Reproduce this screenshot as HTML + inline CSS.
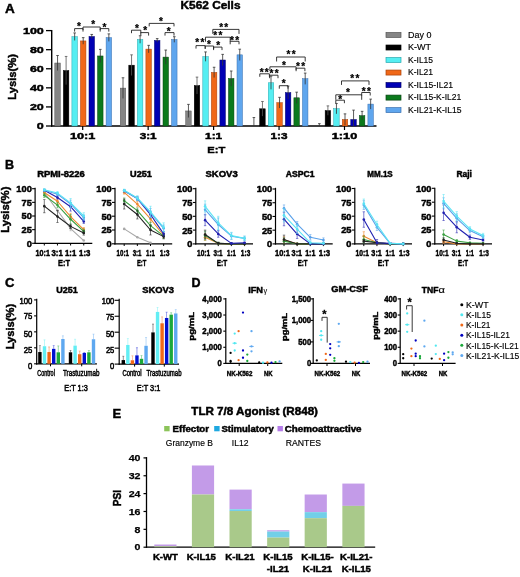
<!DOCTYPE html>
<html><head><meta charset="utf-8"><title>Figure</title>
<style>
html,body{margin:0;padding:0;background:#fff;}
body{width:520px;height:577px;overflow:hidden;}
svg{display:block;}
text{font-family:"Liberation Sans", Arial, sans-serif;}
</style></head>
<body>
<svg width="520" height="577" viewBox="0 0 520 577">
<rect x="0" y="0" width="520" height="577" fill="#fff"/>
<text x="5.00" y="12.70" font-size="13.5" font-weight="bold" text-anchor="start" fill="#000" stroke="#000" stroke-width="0.45">A</text>
<text x="180.50" y="9.30" font-size="11" font-weight="bold" text-anchor="start" fill="#000" stroke="#000" stroke-width="0.45" textLength="60.00" lengthAdjust="spacingAndGlyphs">K562 Cells</text>
<line x1="51.70" y1="30.00" x2="51.70" y2="126.60" stroke="#000" stroke-width="1.4"/>
<line x1="51.00" y1="126.00" x2="376.50" y2="126.00" stroke="#000" stroke-width="1.4"/>
<line x1="46.00" y1="126.00" x2="51.70" y2="126.00" stroke="#000" stroke-width="1.3"/>
<text x="43.80" y="128.90" font-size="9.3" font-weight="bold" text-anchor="end" fill="#000" stroke="#000" stroke-width="0.45" textLength="6.95" lengthAdjust="spacingAndGlyphs">0</text>
<line x1="46.00" y1="106.92" x2="51.70" y2="106.92" stroke="#000" stroke-width="1.3"/>
<text x="43.80" y="109.82" font-size="9.3" font-weight="bold" text-anchor="end" fill="#000" stroke="#000" stroke-width="0.45" textLength="13.90" lengthAdjust="spacingAndGlyphs">20</text>
<line x1="46.00" y1="87.84" x2="51.70" y2="87.84" stroke="#000" stroke-width="1.3"/>
<text x="43.80" y="90.74" font-size="9.3" font-weight="bold" text-anchor="end" fill="#000" stroke="#000" stroke-width="0.45" textLength="13.90" lengthAdjust="spacingAndGlyphs">40</text>
<line x1="46.00" y1="68.76" x2="51.70" y2="68.76" stroke="#000" stroke-width="1.3"/>
<text x="43.80" y="71.66" font-size="9.3" font-weight="bold" text-anchor="end" fill="#000" stroke="#000" stroke-width="0.45" textLength="13.90" lengthAdjust="spacingAndGlyphs">60</text>
<line x1="46.00" y1="49.68" x2="51.70" y2="49.68" stroke="#000" stroke-width="1.3"/>
<text x="43.80" y="52.58" font-size="9.3" font-weight="bold" text-anchor="end" fill="#000" stroke="#000" stroke-width="0.45" textLength="13.90" lengthAdjust="spacingAndGlyphs">80</text>
<line x1="46.00" y1="30.60" x2="51.70" y2="30.60" stroke="#000" stroke-width="1.3"/>
<text x="43.80" y="33.50" font-size="9.3" font-weight="bold" text-anchor="end" fill="#000" stroke="#000" stroke-width="0.45" textLength="20.85" lengthAdjust="spacingAndGlyphs">100</text>
<text x="15.60" y="76.80" font-size="11.4" font-weight="bold" text-anchor="middle" fill="#000" stroke="#000" stroke-width="0.45" textLength="45.80" lengthAdjust="spacingAndGlyphs" transform="rotate(-90 15.60 76.80)">Lysis(%)</text>
<rect x="54.80" y="63.02" width="5.50" height="62.98" fill="#858585" stroke="#555" stroke-width="0.5"/>
<line x1="57.55" y1="55.50" x2="57.55" y2="70.54" stroke="#333" stroke-width="0.8"/>
<line x1="56.25" y1="55.50" x2="58.85" y2="55.50" stroke="#333" stroke-width="0.8"/>
<rect x="63.35" y="70.54" width="5.50" height="55.46" fill="#000000" stroke="#000" stroke-width="0.5"/>
<line x1="66.10" y1="56.44" x2="66.10" y2="84.64" stroke="#555" stroke-width="0.8"/>
<line x1="64.80" y1="56.44" x2="67.40" y2="56.44" stroke="#555" stroke-width="0.8"/>
<rect x="71.90" y="36.70" width="5.50" height="89.30" fill="#55eef2" stroke="#2aa8b0" stroke-width="0.5"/>
<line x1="74.65" y1="32.94" x2="74.65" y2="40.46" stroke="#333" stroke-width="0.8"/>
<line x1="73.35" y1="32.94" x2="75.95" y2="32.94" stroke="#333" stroke-width="0.8"/>
<rect x="80.45" y="40.93" width="5.50" height="85.07" fill="#f06818" stroke="#a84008" stroke-width="0.5"/>
<line x1="83.20" y1="37.64" x2="83.20" y2="44.22" stroke="#333" stroke-width="0.8"/>
<line x1="81.90" y1="37.64" x2="84.50" y2="37.64" stroke="#333" stroke-width="0.8"/>
<rect x="89.00" y="36.51" width="5.50" height="89.49" fill="#0000b4" stroke="#00006a" stroke-width="0.5"/>
<line x1="91.75" y1="34.44" x2="91.75" y2="38.58" stroke="#333" stroke-width="0.8"/>
<line x1="90.45" y1="34.44" x2="93.05" y2="34.44" stroke="#333" stroke-width="0.8"/>
<rect x="97.55" y="55.97" width="5.50" height="70.03" fill="#0b7a1c" stroke="#064010" stroke-width="0.5"/>
<line x1="100.30" y1="49.39" x2="100.30" y2="62.55" stroke="#333" stroke-width="0.8"/>
<line x1="99.00" y1="49.39" x2="101.60" y2="49.39" stroke="#333" stroke-width="0.8"/>
<rect x="106.10" y="37.64" width="5.50" height="88.36" fill="#5fa6ee" stroke="#3a70b0" stroke-width="0.5"/>
<line x1="108.85" y1="33.88" x2="108.85" y2="41.40" stroke="#333" stroke-width="0.8"/>
<line x1="107.55" y1="33.88" x2="110.15" y2="33.88" stroke="#333" stroke-width="0.8"/>
<line x1="82.70" y1="126.00" x2="82.70" y2="130.00" stroke="#000" stroke-width="1.2"/>
<rect x="120.25" y="88.12" width="5.50" height="37.88" fill="#858585" stroke="#555" stroke-width="0.5"/>
<line x1="123.00" y1="77.78" x2="123.00" y2="98.46" stroke="#333" stroke-width="0.8"/>
<line x1="121.70" y1="77.78" x2="124.30" y2="77.78" stroke="#333" stroke-width="0.8"/>
<rect x="128.80" y="65.18" width="5.50" height="60.82" fill="#000000" stroke="#000" stroke-width="0.5"/>
<line x1="131.55" y1="54.84" x2="131.55" y2="75.52" stroke="#555" stroke-width="0.8"/>
<line x1="130.25" y1="54.84" x2="132.85" y2="54.84" stroke="#555" stroke-width="0.8"/>
<rect x="137.35" y="39.52" width="5.50" height="86.48" fill="#55eef2" stroke="#2aa8b0" stroke-width="0.5"/>
<line x1="140.10" y1="35.76" x2="140.10" y2="43.28" stroke="#333" stroke-width="0.8"/>
<line x1="138.80" y1="35.76" x2="141.40" y2="35.76" stroke="#333" stroke-width="0.8"/>
<rect x="145.90" y="49.11" width="5.50" height="76.89" fill="#f06818" stroke="#a84008" stroke-width="0.5"/>
<line x1="148.65" y1="45.35" x2="148.65" y2="52.87" stroke="#333" stroke-width="0.8"/>
<line x1="147.35" y1="45.35" x2="149.95" y2="45.35" stroke="#333" stroke-width="0.8"/>
<rect x="154.45" y="40.46" width="5.50" height="85.54" fill="#0000b4" stroke="#00006a" stroke-width="0.5"/>
<line x1="157.20" y1="38.58" x2="157.20" y2="42.34" stroke="#333" stroke-width="0.8"/>
<line x1="155.90" y1="38.58" x2="158.50" y2="38.58" stroke="#333" stroke-width="0.8"/>
<rect x="163.00" y="57.10" width="5.50" height="68.90" fill="#0b7a1c" stroke="#064010" stroke-width="0.5"/>
<line x1="165.75" y1="50.05" x2="165.75" y2="64.15" stroke="#333" stroke-width="0.8"/>
<line x1="164.45" y1="50.05" x2="167.05" y2="50.05" stroke="#333" stroke-width="0.8"/>
<rect x="171.55" y="39.52" width="5.50" height="86.48" fill="#5fa6ee" stroke="#3a70b0" stroke-width="0.5"/>
<line x1="174.30" y1="36.70" x2="174.30" y2="42.34" stroke="#333" stroke-width="0.8"/>
<line x1="173.00" y1="36.70" x2="175.60" y2="36.70" stroke="#333" stroke-width="0.8"/>
<line x1="148.15" y1="126.00" x2="148.15" y2="130.00" stroke="#000" stroke-width="1.2"/>
<rect x="185.70" y="110.96" width="5.50" height="15.04" fill="#858585" stroke="#555" stroke-width="0.5"/>
<line x1="188.45" y1="104.38" x2="188.45" y2="117.54" stroke="#333" stroke-width="0.8"/>
<line x1="187.15" y1="104.38" x2="189.75" y2="104.38" stroke="#333" stroke-width="0.8"/>
<rect x="194.25" y="85.58" width="5.50" height="40.42" fill="#000000" stroke="#000" stroke-width="0.5"/>
<line x1="197.00" y1="77.12" x2="197.00" y2="94.04" stroke="#555" stroke-width="0.8"/>
<line x1="195.70" y1="77.12" x2="198.30" y2="77.12" stroke="#555" stroke-width="0.8"/>
<rect x="202.80" y="56.63" width="5.50" height="69.37" fill="#55eef2" stroke="#2aa8b0" stroke-width="0.5"/>
<line x1="205.55" y1="51.93" x2="205.55" y2="61.33" stroke="#333" stroke-width="0.8"/>
<line x1="204.25" y1="51.93" x2="206.85" y2="51.93" stroke="#333" stroke-width="0.8"/>
<rect x="211.35" y="72.42" width="5.50" height="53.58" fill="#f06818" stroke="#a84008" stroke-width="0.5"/>
<line x1="214.10" y1="67.25" x2="214.10" y2="77.59" stroke="#333" stroke-width="0.8"/>
<line x1="212.80" y1="67.25" x2="215.40" y2="67.25" stroke="#333" stroke-width="0.8"/>
<rect x="219.90" y="60.01" width="5.50" height="65.99" fill="#0000b4" stroke="#00006a" stroke-width="0.5"/>
<line x1="222.65" y1="54.37" x2="222.65" y2="65.65" stroke="#333" stroke-width="0.8"/>
<line x1="221.35" y1="54.37" x2="223.95" y2="54.37" stroke="#333" stroke-width="0.8"/>
<rect x="228.45" y="78.53" width="5.50" height="47.47" fill="#0b7a1c" stroke="#064010" stroke-width="0.5"/>
<line x1="231.20" y1="71.01" x2="231.20" y2="86.05" stroke="#333" stroke-width="0.8"/>
<line x1="229.90" y1="71.01" x2="232.50" y2="71.01" stroke="#333" stroke-width="0.8"/>
<rect x="237.00" y="54.84" width="5.50" height="71.16" fill="#5fa6ee" stroke="#3a70b0" stroke-width="0.5"/>
<line x1="239.75" y1="49.20" x2="239.75" y2="60.48" stroke="#333" stroke-width="0.8"/>
<line x1="238.45" y1="49.20" x2="241.05" y2="49.20" stroke="#333" stroke-width="0.8"/>
<line x1="213.60" y1="126.00" x2="213.60" y2="130.00" stroke="#000" stroke-width="1.2"/>
<line x1="253.90" y1="117.54" x2="253.90" y2="126.00" stroke="#333" stroke-width="0.8"/>
<line x1="252.60" y1="117.54" x2="255.20" y2="117.54" stroke="#333" stroke-width="0.8"/>
<rect x="259.70" y="108.80" width="5.50" height="17.20" fill="#000000" stroke="#000" stroke-width="0.5"/>
<line x1="262.45" y1="101.47" x2="262.45" y2="116.13" stroke="#555" stroke-width="0.8"/>
<line x1="261.15" y1="101.47" x2="263.75" y2="101.47" stroke="#555" stroke-width="0.8"/>
<rect x="268.25" y="82.76" width="5.50" height="43.24" fill="#55eef2" stroke="#2aa8b0" stroke-width="0.5"/>
<line x1="271.00" y1="76.18" x2="271.00" y2="89.34" stroke="#333" stroke-width="0.8"/>
<line x1="269.70" y1="76.18" x2="272.30" y2="76.18" stroke="#333" stroke-width="0.8"/>
<rect x="276.80" y="102.69" width="5.50" height="23.31" fill="#f06818" stroke="#a84008" stroke-width="0.5"/>
<line x1="279.55" y1="97.33" x2="279.55" y2="108.05" stroke="#333" stroke-width="0.8"/>
<line x1="278.25" y1="97.33" x2="280.85" y2="97.33" stroke="#333" stroke-width="0.8"/>
<rect x="285.35" y="92.63" width="5.50" height="33.37" fill="#0000b4" stroke="#00006a" stroke-width="0.5"/>
<line x1="288.10" y1="86.05" x2="288.10" y2="99.21" stroke="#333" stroke-width="0.8"/>
<line x1="286.80" y1="86.05" x2="289.40" y2="86.05" stroke="#333" stroke-width="0.8"/>
<rect x="293.90" y="97.80" width="5.50" height="28.20" fill="#0b7a1c" stroke="#064010" stroke-width="0.5"/>
<line x1="296.65" y1="92.16" x2="296.65" y2="103.44" stroke="#333" stroke-width="0.8"/>
<line x1="295.35" y1="92.16" x2="297.95" y2="92.16" stroke="#333" stroke-width="0.8"/>
<rect x="302.45" y="78.72" width="5.50" height="47.28" fill="#5fa6ee" stroke="#3a70b0" stroke-width="0.5"/>
<line x1="305.20" y1="73.08" x2="305.20" y2="84.36" stroke="#333" stroke-width="0.8"/>
<line x1="303.90" y1="73.08" x2="306.50" y2="73.08" stroke="#333" stroke-width="0.8"/>
<line x1="279.05" y1="126.00" x2="279.05" y2="130.00" stroke="#000" stroke-width="1.2"/>
<line x1="319.35" y1="123.65" x2="319.35" y2="126.00" stroke="#333" stroke-width="0.8"/>
<line x1="318.05" y1="123.65" x2="320.65" y2="123.65" stroke="#333" stroke-width="0.8"/>
<rect x="325.15" y="110.58" width="5.50" height="15.42" fill="#000000" stroke="#000" stroke-width="0.5"/>
<line x1="327.90" y1="105.88" x2="327.90" y2="115.28" stroke="#555" stroke-width="0.8"/>
<line x1="326.60" y1="105.88" x2="329.20" y2="105.88" stroke="#555" stroke-width="0.8"/>
<rect x="333.70" y="108.70" width="5.50" height="17.30" fill="#55eef2" stroke="#2aa8b0" stroke-width="0.5"/>
<line x1="336.45" y1="103.53" x2="336.45" y2="113.87" stroke="#333" stroke-width="0.8"/>
<line x1="335.15" y1="103.53" x2="337.75" y2="103.53" stroke="#333" stroke-width="0.8"/>
<rect x="342.25" y="119.51" width="5.50" height="6.49" fill="#f06818" stroke="#a84008" stroke-width="0.5"/>
<line x1="345.00" y1="113.87" x2="345.00" y2="125.15" stroke="#333" stroke-width="0.8"/>
<line x1="343.70" y1="113.87" x2="346.30" y2="113.87" stroke="#333" stroke-width="0.8"/>
<rect x="350.80" y="119.51" width="5.50" height="6.49" fill="#0000b4" stroke="#00006a" stroke-width="0.5"/>
<line x1="353.55" y1="110.11" x2="353.55" y2="126.00" stroke="#333" stroke-width="0.8"/>
<line x1="352.25" y1="110.11" x2="354.85" y2="110.11" stroke="#333" stroke-width="0.8"/>
<rect x="359.35" y="115.66" width="5.50" height="10.34" fill="#0b7a1c" stroke="#064010" stroke-width="0.5"/>
<line x1="362.10" y1="111.34" x2="362.10" y2="119.98" stroke="#333" stroke-width="0.8"/>
<line x1="360.80" y1="111.34" x2="363.40" y2="111.34" stroke="#333" stroke-width="0.8"/>
<rect x="367.90" y="104.10" width="5.50" height="21.90" fill="#5fa6ee" stroke="#3a70b0" stroke-width="0.5"/>
<line x1="370.65" y1="99.12" x2="370.65" y2="109.08" stroke="#333" stroke-width="0.8"/>
<line x1="369.35" y1="99.12" x2="371.95" y2="99.12" stroke="#333" stroke-width="0.8"/>
<line x1="344.50" y1="126.00" x2="344.50" y2="130.00" stroke="#000" stroke-width="1.2"/>
<text x="82.70" y="139.40" font-size="8.8" font-weight="bold" text-anchor="middle" fill="#000" stroke="#000" stroke-width="0.45" textLength="25.40" lengthAdjust="spacingAndGlyphs">10:1</text>
<text x="148.15" y="139.40" font-size="8.8" font-weight="bold" text-anchor="middle" fill="#000" stroke="#000" stroke-width="0.45" textLength="17.00" lengthAdjust="spacingAndGlyphs">3:1</text>
<text x="213.60" y="139.40" font-size="8.8" font-weight="bold" text-anchor="middle" fill="#000" stroke="#000" stroke-width="0.45" textLength="17.00" lengthAdjust="spacingAndGlyphs">1:1</text>
<text x="279.05" y="139.40" font-size="8.8" font-weight="bold" text-anchor="middle" fill="#000" stroke="#000" stroke-width="0.45" textLength="17.00" lengthAdjust="spacingAndGlyphs">1:3</text>
<text x="344.50" y="139.40" font-size="8.8" font-weight="bold" text-anchor="middle" fill="#000" stroke="#000" stroke-width="0.45" textLength="25.40" lengthAdjust="spacingAndGlyphs">1:10</text>
<text x="216.30" y="152.80" font-size="9.8" font-weight="bold" text-anchor="middle" fill="#000" stroke="#000" stroke-width="0.45" textLength="18.00" lengthAdjust="spacingAndGlyphs">E:T</text>
<path d="M74.60,31.60 L74.60,28.60 L83.00,28.60 L83.00,31.60" stroke="#222" stroke-width="0.9" fill="none"/>
<text x="79.00" y="30.10" font-size="10.0" font-weight="bold" text-anchor="middle" fill="#000" stroke="#000" stroke-width="0.25">*</text>
<path d="M83.00,30.00 L83.00,27.00 L100.20,27.00 L100.20,30.00" stroke="#222" stroke-width="0.9" fill="none"/>
<text x="93.30" y="28.10" font-size="10.0" font-weight="bold" text-anchor="middle" fill="#000" stroke="#000" stroke-width="0.25">*</text>
<path d="M100.20,31.60 L100.20,28.60 L108.80,28.60 L108.80,31.60" stroke="#222" stroke-width="0.9" fill="none"/>
<text x="104.50" y="30.60" font-size="10.0" font-weight="bold" text-anchor="middle" fill="#000" stroke="#000" stroke-width="0.25">*</text>
<path d="M131.50,33.20 L131.50,30.20 L140.80,30.20 L140.80,33.20" stroke="#222" stroke-width="0.9" fill="none"/>
<text x="137.00" y="31.60" font-size="10.0" font-weight="bold" text-anchor="middle" fill="#000" stroke="#000" stroke-width="0.25">*</text>
<path d="M140.80,35.60 L140.80,32.60 L148.60,32.60 L148.60,35.60" stroke="#222" stroke-width="0.9" fill="none"/>
<text x="145.20" y="34.00" font-size="10.0" font-weight="bold" text-anchor="middle" fill="#000" stroke="#000" stroke-width="0.25">*</text>
<path d="M149.20,26.40 L149.20,23.40 L174.00,23.40 L174.00,26.40" stroke="#222" stroke-width="0.9" fill="none"/>
<text x="161.00" y="24.60" font-size="10.0" font-weight="bold" text-anchor="middle" fill="#000" stroke="#000" stroke-width="0.25">*</text>
<path d="M165.00,35.60 L165.00,32.60 L174.00,32.60 L174.00,35.60" stroke="#222" stroke-width="0.9" fill="none"/>
<text x="168.70" y="34.60" font-size="10.0" font-weight="bold" text-anchor="middle" fill="#000" stroke="#000" stroke-width="0.25">*</text>
<path d="M196.00,48.60 L196.00,45.60 L205.20,45.60 L205.20,48.60" stroke="#222" stroke-width="0.9" fill="none"/>
<text x="197.20" y="46.00" font-size="10.0" font-weight="bold" text-anchor="middle" fill="#000" stroke="#000" stroke-width="0.25">*</text>
<text x="202.40" y="46.00" font-size="10.0" font-weight="bold" text-anchor="middle" fill="#000" stroke="#000" stroke-width="0.25">*</text>
<path d="M205.20,49.00 L205.20,46.00 L213.60,46.00 L213.60,49.00" stroke="#222" stroke-width="0.9" fill="none"/>
<text x="208.90" y="48.10" font-size="10.0" font-weight="bold" text-anchor="middle" fill="#000" stroke="#000" stroke-width="0.25">*</text>
<path d="M213.60,50.10 L213.60,47.10 L222.00,47.10 L222.00,50.10" stroke="#222" stroke-width="0.9" fill="none"/>
<text x="218.10" y="48.90" font-size="10.0" font-weight="bold" text-anchor="middle" fill="#000" stroke="#000" stroke-width="0.25">*</text>
<path d="M205.50,41.70 L205.50,37.20 L230.20,37.20 L230.20,41.70" stroke="#222" stroke-width="0.9" fill="none"/>
<text x="215.30" y="39.30" font-size="10.0" font-weight="bold" text-anchor="middle" fill="#000" stroke="#000" stroke-width="0.25">*</text>
<text x="220.50" y="39.30" font-size="10.0" font-weight="bold" text-anchor="middle" fill="#000" stroke="#000" stroke-width="0.25">*</text>
<path d="M230.20,44.30 L230.20,41.30 L239.00,41.30 L239.00,44.30" stroke="#222" stroke-width="0.9" fill="none"/>
<text x="232.00" y="43.60" font-size="10.0" font-weight="bold" text-anchor="middle" fill="#000" stroke="#000" stroke-width="0.25">*</text>
<text x="237.20" y="43.60" font-size="10.0" font-weight="bold" text-anchor="middle" fill="#000" stroke="#000" stroke-width="0.25">*</text>
<path d="M212.80,33.90 L212.80,29.40 L239.00,29.40 L239.00,33.90" stroke="#222" stroke-width="0.9" fill="none"/>
<text x="221.10" y="31.00" font-size="10.0" font-weight="bold" text-anchor="middle" fill="#000" stroke="#000" stroke-width="0.25">*</text>
<text x="226.30" y="31.00" font-size="10.0" font-weight="bold" text-anchor="middle" fill="#000" stroke="#000" stroke-width="0.25">*</text>
<path d="M259.80,76.80 L259.80,73.80 L269.40,73.80 L269.40,76.80" stroke="#222" stroke-width="0.9" fill="none"/>
<text x="261.60" y="75.60" font-size="10.0" font-weight="bold" text-anchor="middle" fill="#000" stroke="#000" stroke-width="0.25">*</text>
<text x="266.80" y="75.60" font-size="10.0" font-weight="bold" text-anchor="middle" fill="#000" stroke="#000" stroke-width="0.25">*</text>
<path d="M269.60,78.20 L269.60,75.20 L278.00,75.20 L278.00,78.20" stroke="#222" stroke-width="0.9" fill="none"/>
<text x="271.40" y="77.00" font-size="10.0" font-weight="bold" text-anchor="middle" fill="#000" stroke="#000" stroke-width="0.25">*</text>
<text x="276.60" y="77.00" font-size="10.0" font-weight="bold" text-anchor="middle" fill="#000" stroke="#000" stroke-width="0.25">*</text>
<path d="M269.90,69.80 L269.90,66.80 L296.10,66.80 L296.10,69.80" stroke="#222" stroke-width="0.9" fill="none"/>
<text x="284.00" y="68.60" font-size="10.0" font-weight="bold" text-anchor="middle" fill="#000" stroke="#000" stroke-width="0.25">*</text>
<path d="M296.10,71.20 L296.10,68.20 L304.90,68.20 L304.90,71.20" stroke="#222" stroke-width="0.9" fill="none"/>
<text x="297.90" y="70.30" font-size="10.0" font-weight="bold" text-anchor="middle" fill="#000" stroke="#000" stroke-width="0.25">*</text>
<text x="303.10" y="70.30" font-size="10.0" font-weight="bold" text-anchor="middle" fill="#000" stroke="#000" stroke-width="0.25">*</text>
<path d="M276.60,61.50 L276.60,57.00 L305.20,57.00 L305.20,61.50" stroke="#222" stroke-width="0.9" fill="none"/>
<text x="288.40" y="58.10" font-size="10.0" font-weight="bold" text-anchor="middle" fill="#000" stroke="#000" stroke-width="0.25">*</text>
<text x="293.60" y="58.10" font-size="10.0" font-weight="bold" text-anchor="middle" fill="#000" stroke="#000" stroke-width="0.25">*</text>
<path d="M279.30,88.70 L279.30,85.70 L288.00,85.70 L288.00,88.70" stroke="#222" stroke-width="0.9" fill="none"/>
<text x="283.60" y="87.20" font-size="10.0" font-weight="bold" text-anchor="middle" fill="#000" stroke="#000" stroke-width="0.25">*</text>
<path d="M335.80,103.20 L335.80,100.20 L344.40,100.20 L344.40,103.20" stroke="#222" stroke-width="0.9" fill="none"/>
<text x="340.30" y="102.90" font-size="10.0" font-weight="bold" text-anchor="middle" fill="#000" stroke="#000" stroke-width="0.25">*</text>
<path d="M335.80,99.80 L335.80,94.80 L361.70,94.80 L361.70,99.80" stroke="#222" stroke-width="0.9" fill="none"/>
<text x="347.90" y="96.20" font-size="10.0" font-weight="bold" text-anchor="middle" fill="#000" stroke="#000" stroke-width="0.25">*</text>
<path d="M361.70,95.50 L361.70,92.50 L370.20,92.50 L370.20,95.50" stroke="#222" stroke-width="0.9" fill="none"/>
<text x="363.70" y="94.80" font-size="10.0" font-weight="bold" text-anchor="middle" fill="#000" stroke="#000" stroke-width="0.25">*</text>
<text x="368.90" y="94.80" font-size="10.0" font-weight="bold" text-anchor="middle" fill="#000" stroke="#000" stroke-width="0.25">*</text>
<path d="M341.50,84.90 L341.50,80.90 L369.00,80.90 L369.00,84.90" stroke="#222" stroke-width="0.9" fill="none"/>
<text x="352.20" y="82.10" font-size="10.0" font-weight="bold" text-anchor="middle" fill="#000" stroke="#000" stroke-width="0.25">*</text>
<text x="357.40" y="82.10" font-size="10.0" font-weight="bold" text-anchor="middle" fill="#000" stroke="#000" stroke-width="0.25">*</text>
<rect x="386.00" y="32.50" width="15.00" height="5.00" fill="#858585" stroke="#555" stroke-width="0.7"/>
<text x="408.00" y="37.50" font-size="8.5" font-weight="normal" text-anchor="start" fill="#000" stroke="#000" stroke-width="0.15" textLength="23.40" lengthAdjust="spacingAndGlyphs">Day 0</text>
<rect x="386.00" y="45.02" width="15.00" height="5.00" fill="#000000" stroke="#000" stroke-width="0.7"/>
<text x="408.00" y="50.02" font-size="8.5" font-weight="normal" text-anchor="start" fill="#000" stroke="#000" stroke-width="0.15" textLength="23.10" lengthAdjust="spacingAndGlyphs">K-WT</text>
<rect x="386.00" y="57.54" width="15.00" height="5.00" fill="#55eef2" stroke="#2aa8b0" stroke-width="0.7"/>
<text x="408.00" y="62.54" font-size="8.5" font-weight="normal" text-anchor="start" fill="#000" stroke="#000" stroke-width="0.15" textLength="25.10" lengthAdjust="spacingAndGlyphs">K-IL15</text>
<rect x="386.00" y="70.06" width="15.00" height="5.00" fill="#f06818" stroke="#a84008" stroke-width="0.7"/>
<text x="408.00" y="75.06" font-size="8.5" font-weight="normal" text-anchor="start" fill="#000" stroke="#000" stroke-width="0.15" textLength="25.10" lengthAdjust="spacingAndGlyphs">K-IL21</text>
<rect x="386.00" y="82.58" width="15.00" height="5.00" fill="#0000b4" stroke="#00006a" stroke-width="0.7"/>
<text x="408.00" y="87.58" font-size="8.5" font-weight="normal" text-anchor="start" fill="#000" stroke="#000" stroke-width="0.15" textLength="45.00" lengthAdjust="spacingAndGlyphs">K-IL15-IL21</text>
<rect x="386.00" y="95.10" width="15.00" height="5.00" fill="#0b7a1c" stroke="#064010" stroke-width="0.7"/>
<text x="408.00" y="100.10" font-size="8.5" font-weight="normal" text-anchor="start" fill="#000" stroke="#000" stroke-width="0.15" textLength="53.30" lengthAdjust="spacingAndGlyphs">K-IL15-K-IL21</text>
<rect x="386.00" y="107.62" width="15.00" height="5.00" fill="#5fa6ee" stroke="#3a70b0" stroke-width="0.7"/>
<text x="408.00" y="112.62" font-size="8.5" font-weight="normal" text-anchor="start" fill="#000" stroke="#000" stroke-width="0.15" textLength="53.60" lengthAdjust="spacingAndGlyphs">K-IL21-K-IL15</text>
<text x="5.00" y="169.30" font-size="12.5" font-weight="bold" text-anchor="start" fill="#000" stroke="#000" stroke-width="0.45">B</text>
<text x="61.00" y="177.10" font-size="8.4" font-weight="bold" text-anchor="middle" fill="#000" stroke="#000" stroke-width="0.45" textLength="47.70" lengthAdjust="spacingAndGlyphs">RPMI-8226</text>
<line x1="35.10" y1="187.80" x2="35.10" y2="243.90" stroke="#000" stroke-width="1.2"/>
<line x1="34.50" y1="243.30" x2="92.30" y2="243.30" stroke="#000" stroke-width="1.2"/>
<line x1="32.10" y1="243.30" x2="35.10" y2="243.30" stroke="#000" stroke-width="1.1"/>
<text x="31.80" y="246.70" font-size="8.6" font-weight="bold" text-anchor="end" fill="#000" stroke="#000" stroke-width="0.45" textLength="5.15" lengthAdjust="spacingAndGlyphs">0</text>
<line x1="32.10" y1="229.65" x2="35.10" y2="229.65" stroke="#000" stroke-width="1.1"/>
<text x="31.80" y="233.05" font-size="8.6" font-weight="bold" text-anchor="end" fill="#000" stroke="#000" stroke-width="0.45" textLength="10.30" lengthAdjust="spacingAndGlyphs">25</text>
<line x1="32.10" y1="216.00" x2="35.10" y2="216.00" stroke="#000" stroke-width="1.1"/>
<text x="31.80" y="219.40" font-size="8.6" font-weight="bold" text-anchor="end" fill="#000" stroke="#000" stroke-width="0.45" textLength="10.30" lengthAdjust="spacingAndGlyphs">50</text>
<line x1="32.10" y1="202.35" x2="35.10" y2="202.35" stroke="#000" stroke-width="1.1"/>
<text x="31.80" y="205.75" font-size="8.6" font-weight="bold" text-anchor="end" fill="#000" stroke="#000" stroke-width="0.45" textLength="10.30" lengthAdjust="spacingAndGlyphs">75</text>
<line x1="32.10" y1="188.70" x2="35.10" y2="188.70" stroke="#000" stroke-width="1.1"/>
<text x="31.80" y="192.10" font-size="8.6" font-weight="bold" text-anchor="end" fill="#000" stroke="#000" stroke-width="0.45" textLength="15.45" lengthAdjust="spacingAndGlyphs">100</text>
<line x1="44.30" y1="243.30" x2="44.30" y2="245.50" stroke="#000" stroke-width="1.0"/>
<line x1="57.45" y1="243.30" x2="57.45" y2="245.50" stroke="#000" stroke-width="1.0"/>
<line x1="70.60" y1="243.30" x2="70.60" y2="245.50" stroke="#000" stroke-width="1.0"/>
<line x1="83.75" y1="243.30" x2="83.75" y2="245.50" stroke="#000" stroke-width="1.0"/>
<text x="42.80" y="255.90" font-size="8.6" font-weight="bold" text-anchor="middle" fill="#000" stroke="#000" stroke-width="0.45" textLength="14.40" lengthAdjust="spacingAndGlyphs">10:1</text>
<text x="57.15" y="255.90" font-size="8.6" font-weight="bold" text-anchor="middle" fill="#000" stroke="#000" stroke-width="0.45" textLength="11.30" lengthAdjust="spacingAndGlyphs">3:1</text>
<text x="70.60" y="255.90" font-size="8.6" font-weight="bold" text-anchor="middle" fill="#000" stroke="#000" stroke-width="0.45" textLength="11.30" lengthAdjust="spacingAndGlyphs">1:1</text>
<text x="84.75" y="255.90" font-size="8.6" font-weight="bold" text-anchor="middle" fill="#000" stroke="#000" stroke-width="0.45" textLength="11.30" lengthAdjust="spacingAndGlyphs">1:3</text>
<text x="64.05" y="265.90" font-size="8.6" font-weight="bold" text-anchor="middle" fill="#000" stroke="#000" stroke-width="0.45" textLength="11.90" lengthAdjust="spacingAndGlyphs">E:T</text>
<line x1="70.60" y1="226.37" x2="70.60" y2="230.74" stroke="#a8a8a8" stroke-width="0.8" opacity="0.75"/>
<line x1="69.40" y1="226.37" x2="71.80" y2="226.37" stroke="#a8a8a8" stroke-width="0.7" opacity="0.75"/>
<line x1="69.40" y1="230.74" x2="71.80" y2="230.74" stroke="#a8a8a8" stroke-width="0.7" opacity="0.75"/>
<path d="M44.30,192.52 L57.45,210.54 L70.60,228.56 L83.75,240.57" stroke="#a8a8a8" stroke-width="1.1" fill="none" stroke-linejoin="round"/>
<circle cx="44.30" cy="192.52" r="1.3" fill="#a8a8a8"/>
<circle cx="57.45" cy="210.54" r="1.3" fill="#a8a8a8"/>
<circle cx="70.60" cy="228.56" r="1.3" fill="#a8a8a8"/>
<circle cx="83.75" cy="240.57" r="1.3" fill="#a8a8a8"/>
<line x1="44.30" y1="190.88" x2="44.30" y2="194.16" stroke="#f08a30" stroke-width="0.8" opacity="0.75"/>
<line x1="43.10" y1="190.88" x2="45.50" y2="190.88" stroke="#f08a30" stroke-width="0.7" opacity="0.75"/>
<line x1="43.10" y1="194.16" x2="45.50" y2="194.16" stroke="#f08a30" stroke-width="0.7" opacity="0.75"/>
<line x1="57.45" y1="199.07" x2="57.45" y2="203.44" stroke="#f08a30" stroke-width="0.8" opacity="0.75"/>
<line x1="56.25" y1="199.07" x2="58.65" y2="199.07" stroke="#f08a30" stroke-width="0.7" opacity="0.75"/>
<line x1="56.25" y1="203.44" x2="58.65" y2="203.44" stroke="#f08a30" stroke-width="0.7" opacity="0.75"/>
<line x1="70.60" y1="213.27" x2="70.60" y2="219.82" stroke="#f08a30" stroke-width="0.8" opacity="0.75"/>
<line x1="69.40" y1="213.27" x2="71.80" y2="213.27" stroke="#f08a30" stroke-width="0.7" opacity="0.75"/>
<line x1="69.40" y1="219.82" x2="71.80" y2="219.82" stroke="#f08a30" stroke-width="0.7" opacity="0.75"/>
<line x1="83.75" y1="227.47" x2="83.75" y2="231.83" stroke="#f08a30" stroke-width="0.8" opacity="0.75"/>
<line x1="82.55" y1="227.47" x2="84.95" y2="227.47" stroke="#f08a30" stroke-width="0.7" opacity="0.75"/>
<line x1="82.55" y1="231.83" x2="84.95" y2="231.83" stroke="#f08a30" stroke-width="0.7" opacity="0.75"/>
<path d="M44.30,192.52 L57.45,201.26 L70.60,216.55 L83.75,229.65" stroke="#f08a30" stroke-width="1.1" fill="none" stroke-linejoin="round"/>
<circle cx="44.30" cy="192.52" r="1.3" fill="#f08a30"/>
<circle cx="57.45" cy="201.26" r="1.3" fill="#f08a30"/>
<circle cx="70.60" cy="216.55" r="1.3" fill="#f08a30"/>
<circle cx="83.75" cy="229.65" r="1.3" fill="#f08a30"/>
<line x1="44.30" y1="193.07" x2="44.30" y2="197.44" stroke="#3aa040" stroke-width="0.8" opacity="0.75"/>
<line x1="43.10" y1="193.07" x2="45.50" y2="193.07" stroke="#3aa040" stroke-width="0.7" opacity="0.75"/>
<line x1="43.10" y1="197.44" x2="45.50" y2="197.44" stroke="#3aa040" stroke-width="0.7" opacity="0.75"/>
<line x1="57.45" y1="202.35" x2="57.45" y2="207.81" stroke="#3aa040" stroke-width="0.8" opacity="0.75"/>
<line x1="56.25" y1="202.35" x2="58.65" y2="202.35" stroke="#3aa040" stroke-width="0.7" opacity="0.75"/>
<line x1="56.25" y1="207.81" x2="58.65" y2="207.81" stroke="#3aa040" stroke-width="0.7" opacity="0.75"/>
<line x1="70.60" y1="214.36" x2="70.60" y2="224.19" stroke="#3aa040" stroke-width="0.8" opacity="0.75"/>
<line x1="69.40" y1="214.36" x2="71.80" y2="214.36" stroke="#3aa040" stroke-width="0.7" opacity="0.75"/>
<line x1="69.40" y1="224.19" x2="71.80" y2="224.19" stroke="#3aa040" stroke-width="0.7" opacity="0.75"/>
<line x1="83.75" y1="229.10" x2="83.75" y2="233.47" stroke="#3aa040" stroke-width="0.8" opacity="0.75"/>
<line x1="82.55" y1="229.10" x2="84.95" y2="229.10" stroke="#3aa040" stroke-width="0.7" opacity="0.75"/>
<line x1="82.55" y1="233.47" x2="84.95" y2="233.47" stroke="#3aa040" stroke-width="0.7" opacity="0.75"/>
<path d="M44.30,195.25 L57.45,205.08 L70.60,219.28 L83.75,231.29" stroke="#3aa040" stroke-width="1.1" fill="none" stroke-linejoin="round"/>
<circle cx="44.30" cy="195.25" r="1.3" fill="#3aa040"/>
<circle cx="57.45" cy="205.08" r="1.3" fill="#3aa040"/>
<circle cx="70.60" cy="219.28" r="1.3" fill="#3aa040"/>
<circle cx="83.75" cy="231.29" r="1.3" fill="#3aa040"/>
<line x1="44.30" y1="199.62" x2="44.30" y2="212.72" stroke="#222222" stroke-width="0.8" opacity="0.75"/>
<line x1="43.10" y1="199.62" x2="45.50" y2="199.62" stroke="#222222" stroke-width="0.7" opacity="0.75"/>
<line x1="43.10" y1="212.72" x2="45.50" y2="212.72" stroke="#222222" stroke-width="0.7" opacity="0.75"/>
<line x1="57.45" y1="210.54" x2="57.45" y2="222.55" stroke="#222222" stroke-width="0.8" opacity="0.75"/>
<line x1="56.25" y1="210.54" x2="58.65" y2="210.54" stroke="#222222" stroke-width="0.7" opacity="0.75"/>
<line x1="56.25" y1="222.55" x2="58.65" y2="222.55" stroke="#222222" stroke-width="0.7" opacity="0.75"/>
<line x1="70.60" y1="224.19" x2="70.60" y2="228.56" stroke="#222222" stroke-width="0.8" opacity="0.75"/>
<line x1="69.40" y1="224.19" x2="71.80" y2="224.19" stroke="#222222" stroke-width="0.7" opacity="0.75"/>
<line x1="69.40" y1="228.56" x2="71.80" y2="228.56" stroke="#222222" stroke-width="0.7" opacity="0.75"/>
<line x1="83.75" y1="230.74" x2="83.75" y2="235.11" stroke="#222222" stroke-width="0.8" opacity="0.75"/>
<line x1="82.55" y1="230.74" x2="84.95" y2="230.74" stroke="#222222" stroke-width="0.7" opacity="0.75"/>
<line x1="82.55" y1="235.11" x2="84.95" y2="235.11" stroke="#222222" stroke-width="0.7" opacity="0.75"/>
<path d="M44.30,206.17 L57.45,216.55 L70.60,226.37 L83.75,232.93" stroke="#222222" stroke-width="1.1" fill="none" stroke-linejoin="round"/>
<circle cx="44.30" cy="206.17" r="1.3" fill="#222222"/>
<circle cx="57.45" cy="216.55" r="1.3" fill="#222222"/>
<circle cx="70.60" cy="226.37" r="1.3" fill="#222222"/>
<circle cx="83.75" cy="232.93" r="1.3" fill="#222222"/>
<line x1="44.30" y1="189.25" x2="44.30" y2="191.43" stroke="#2020b0" stroke-width="0.8" opacity="0.75"/>
<line x1="43.10" y1="189.25" x2="45.50" y2="189.25" stroke="#2020b0" stroke-width="0.7" opacity="0.75"/>
<line x1="43.10" y1="191.43" x2="45.50" y2="191.43" stroke="#2020b0" stroke-width="0.7" opacity="0.75"/>
<line x1="57.45" y1="195.80" x2="57.45" y2="199.07" stroke="#2020b0" stroke-width="0.8" opacity="0.75"/>
<line x1="56.25" y1="195.80" x2="58.65" y2="195.80" stroke="#2020b0" stroke-width="0.7" opacity="0.75"/>
<line x1="56.25" y1="199.07" x2="58.65" y2="199.07" stroke="#2020b0" stroke-width="0.7" opacity="0.75"/>
<line x1="70.60" y1="202.35" x2="70.60" y2="211.09" stroke="#2020b0" stroke-width="0.8" opacity="0.75"/>
<line x1="69.40" y1="202.35" x2="71.80" y2="202.35" stroke="#2020b0" stroke-width="0.7" opacity="0.75"/>
<line x1="69.40" y1="211.09" x2="71.80" y2="211.09" stroke="#2020b0" stroke-width="0.7" opacity="0.75"/>
<line x1="83.75" y1="219.28" x2="83.75" y2="223.64" stroke="#2020b0" stroke-width="0.8" opacity="0.75"/>
<line x1="82.55" y1="219.28" x2="84.95" y2="219.28" stroke="#2020b0" stroke-width="0.7" opacity="0.75"/>
<line x1="82.55" y1="223.64" x2="84.95" y2="223.64" stroke="#2020b0" stroke-width="0.7" opacity="0.75"/>
<path d="M44.30,190.34 L57.45,197.44 L70.60,206.72 L83.75,221.46" stroke="#2020b0" stroke-width="1.1" fill="none" stroke-linejoin="round"/>
<circle cx="44.30" cy="190.34" r="1.3" fill="#2020b0"/>
<circle cx="57.45" cy="197.44" r="1.3" fill="#2020b0"/>
<circle cx="70.60" cy="206.72" r="1.3" fill="#2020b0"/>
<circle cx="83.75" cy="221.46" r="1.3" fill="#2020b0"/>
<line x1="44.30" y1="189.25" x2="44.30" y2="191.43" stroke="#58a0ea" stroke-width="0.8" opacity="0.75"/>
<line x1="43.10" y1="189.25" x2="45.50" y2="189.25" stroke="#58a0ea" stroke-width="0.7" opacity="0.75"/>
<line x1="43.10" y1="191.43" x2="45.50" y2="191.43" stroke="#58a0ea" stroke-width="0.7" opacity="0.75"/>
<line x1="57.45" y1="192.52" x2="57.45" y2="195.80" stroke="#58a0ea" stroke-width="0.8" opacity="0.75"/>
<line x1="56.25" y1="192.52" x2="58.65" y2="192.52" stroke="#58a0ea" stroke-width="0.7" opacity="0.75"/>
<line x1="56.25" y1="195.80" x2="58.65" y2="195.80" stroke="#58a0ea" stroke-width="0.7" opacity="0.75"/>
<line x1="70.60" y1="200.17" x2="70.60" y2="207.81" stroke="#58a0ea" stroke-width="0.8" opacity="0.75"/>
<line x1="69.40" y1="200.17" x2="71.80" y2="200.17" stroke="#58a0ea" stroke-width="0.7" opacity="0.75"/>
<line x1="69.40" y1="207.81" x2="71.80" y2="207.81" stroke="#58a0ea" stroke-width="0.7" opacity="0.75"/>
<line x1="83.75" y1="214.91" x2="83.75" y2="220.37" stroke="#58a0ea" stroke-width="0.8" opacity="0.75"/>
<line x1="82.55" y1="214.91" x2="84.95" y2="214.91" stroke="#58a0ea" stroke-width="0.7" opacity="0.75"/>
<line x1="82.55" y1="220.37" x2="84.95" y2="220.37" stroke="#58a0ea" stroke-width="0.7" opacity="0.75"/>
<path d="M44.30,190.34 L57.45,194.16 L70.60,203.99 L83.75,217.64" stroke="#58a0ea" stroke-width="1.1" fill="none" stroke-linejoin="round"/>
<circle cx="44.30" cy="190.34" r="1.3" fill="#58a0ea"/>
<circle cx="57.45" cy="194.16" r="1.3" fill="#58a0ea"/>
<circle cx="70.60" cy="203.99" r="1.3" fill="#58a0ea"/>
<circle cx="83.75" cy="217.64" r="1.3" fill="#58a0ea"/>
<line x1="44.30" y1="188.70" x2="44.30" y2="190.88" stroke="#5ae4f4" stroke-width="0.8" opacity="0.75"/>
<line x1="43.10" y1="188.70" x2="45.50" y2="188.70" stroke="#5ae4f4" stroke-width="0.7" opacity="0.75"/>
<line x1="43.10" y1="190.88" x2="45.50" y2="190.88" stroke="#5ae4f4" stroke-width="0.7" opacity="0.75"/>
<line x1="57.45" y1="191.43" x2="57.45" y2="194.71" stroke="#5ae4f4" stroke-width="0.8" opacity="0.75"/>
<line x1="56.25" y1="191.43" x2="58.65" y2="191.43" stroke="#5ae4f4" stroke-width="0.7" opacity="0.75"/>
<line x1="56.25" y1="194.71" x2="58.65" y2="194.71" stroke="#5ae4f4" stroke-width="0.7" opacity="0.75"/>
<line x1="70.60" y1="198.53" x2="70.60" y2="207.26" stroke="#5ae4f4" stroke-width="0.8" opacity="0.75"/>
<line x1="69.40" y1="198.53" x2="71.80" y2="198.53" stroke="#5ae4f4" stroke-width="0.7" opacity="0.75"/>
<line x1="69.40" y1="207.26" x2="71.80" y2="207.26" stroke="#5ae4f4" stroke-width="0.7" opacity="0.75"/>
<line x1="83.75" y1="212.72" x2="83.75" y2="219.28" stroke="#5ae4f4" stroke-width="0.8" opacity="0.75"/>
<line x1="82.55" y1="212.72" x2="84.95" y2="212.72" stroke="#5ae4f4" stroke-width="0.7" opacity="0.75"/>
<line x1="82.55" y1="219.28" x2="84.95" y2="219.28" stroke="#5ae4f4" stroke-width="0.7" opacity="0.75"/>
<path d="M44.30,189.79 L57.45,193.07 L70.60,202.90 L83.75,216.00" stroke="#5ae4f4" stroke-width="1.1" fill="none" stroke-linejoin="round"/>
<circle cx="44.30" cy="189.79" r="1.3" fill="#5ae4f4"/>
<circle cx="57.45" cy="193.07" r="1.3" fill="#5ae4f4"/>
<circle cx="70.60" cy="202.90" r="1.3" fill="#5ae4f4"/>
<circle cx="83.75" cy="216.00" r="1.3" fill="#5ae4f4"/>
<text x="141.00" y="177.10" font-size="8.4" font-weight="bold" text-anchor="middle" fill="#000" stroke="#000" stroke-width="0.45" textLength="21.90" lengthAdjust="spacingAndGlyphs">U251</text>
<line x1="115.00" y1="187.80" x2="115.00" y2="244.40" stroke="#000" stroke-width="1.2"/>
<line x1="114.40" y1="243.80" x2="172.20" y2="243.80" stroke="#000" stroke-width="1.2"/>
<line x1="112.00" y1="243.80" x2="115.00" y2="243.80" stroke="#000" stroke-width="1.1"/>
<text x="111.70" y="247.20" font-size="8.6" font-weight="bold" text-anchor="end" fill="#000" stroke="#000" stroke-width="0.45" textLength="5.15" lengthAdjust="spacingAndGlyphs">0</text>
<line x1="112.00" y1="230.00" x2="115.00" y2="230.00" stroke="#000" stroke-width="1.1"/>
<text x="111.70" y="233.40" font-size="8.6" font-weight="bold" text-anchor="end" fill="#000" stroke="#000" stroke-width="0.45" textLength="10.30" lengthAdjust="spacingAndGlyphs">25</text>
<line x1="112.00" y1="216.20" x2="115.00" y2="216.20" stroke="#000" stroke-width="1.1"/>
<text x="111.70" y="219.60" font-size="8.6" font-weight="bold" text-anchor="end" fill="#000" stroke="#000" stroke-width="0.45" textLength="10.30" lengthAdjust="spacingAndGlyphs">50</text>
<line x1="112.00" y1="202.40" x2="115.00" y2="202.40" stroke="#000" stroke-width="1.1"/>
<text x="111.70" y="205.80" font-size="8.6" font-weight="bold" text-anchor="end" fill="#000" stroke="#000" stroke-width="0.45" textLength="10.30" lengthAdjust="spacingAndGlyphs">75</text>
<line x1="112.00" y1="188.60" x2="115.00" y2="188.60" stroke="#000" stroke-width="1.1"/>
<text x="111.70" y="192.00" font-size="8.6" font-weight="bold" text-anchor="end" fill="#000" stroke="#000" stroke-width="0.45" textLength="15.45" lengthAdjust="spacingAndGlyphs">100</text>
<line x1="124.20" y1="243.80" x2="124.20" y2="246.00" stroke="#000" stroke-width="1.0"/>
<line x1="137.35" y1="243.80" x2="137.35" y2="246.00" stroke="#000" stroke-width="1.0"/>
<line x1="150.50" y1="243.80" x2="150.50" y2="246.00" stroke="#000" stroke-width="1.0"/>
<line x1="163.65" y1="243.80" x2="163.65" y2="246.00" stroke="#000" stroke-width="1.0"/>
<text x="122.70" y="255.90" font-size="8.6" font-weight="bold" text-anchor="middle" fill="#000" stroke="#000" stroke-width="0.45" textLength="12.30" lengthAdjust="spacingAndGlyphs">10:1</text>
<text x="137.05" y="255.90" font-size="8.6" font-weight="bold" text-anchor="middle" fill="#000" stroke="#000" stroke-width="0.45" textLength="8.80" lengthAdjust="spacingAndGlyphs">3:1</text>
<text x="150.50" y="255.90" font-size="8.6" font-weight="bold" text-anchor="middle" fill="#000" stroke="#000" stroke-width="0.45" textLength="8.80" lengthAdjust="spacingAndGlyphs">1:1</text>
<text x="164.65" y="255.90" font-size="8.6" font-weight="bold" text-anchor="middle" fill="#000" stroke="#000" stroke-width="0.45" textLength="9.80" lengthAdjust="spacingAndGlyphs">1:3</text>
<text x="141.60" y="265.90" font-size="8.6" font-weight="bold" text-anchor="middle" fill="#000" stroke="#000" stroke-width="0.45" textLength="9.40" lengthAdjust="spacingAndGlyphs">E:T</text>
<path d="M124.20,228.90 L137.35,237.18 L150.50,242.70" stroke="#a8a8a8" stroke-width="1.1" fill="none" stroke-linejoin="round"/>
<circle cx="124.20" cy="228.90" r="1.3" fill="#a8a8a8"/>
<circle cx="137.35" cy="237.18" r="1.3" fill="#a8a8a8"/>
<circle cx="150.50" cy="242.70" r="1.3" fill="#a8a8a8"/>
<line x1="124.20" y1="190.81" x2="124.20" y2="194.12" stroke="#f08a30" stroke-width="0.8" opacity="0.75"/>
<line x1="123.00" y1="190.81" x2="125.40" y2="190.81" stroke="#f08a30" stroke-width="0.7" opacity="0.75"/>
<line x1="123.00" y1="194.12" x2="125.40" y2="194.12" stroke="#f08a30" stroke-width="0.7" opacity="0.75"/>
<line x1="137.35" y1="201.30" x2="137.35" y2="206.82" stroke="#f08a30" stroke-width="0.8" opacity="0.75"/>
<line x1="136.15" y1="201.30" x2="138.55" y2="201.30" stroke="#f08a30" stroke-width="0.7" opacity="0.75"/>
<line x1="136.15" y1="206.82" x2="138.55" y2="206.82" stroke="#f08a30" stroke-width="0.7" opacity="0.75"/>
<line x1="150.50" y1="215.65" x2="150.50" y2="222.27" stroke="#f08a30" stroke-width="0.8" opacity="0.75"/>
<line x1="149.30" y1="215.65" x2="151.70" y2="215.65" stroke="#f08a30" stroke-width="0.7" opacity="0.75"/>
<line x1="149.30" y1="222.27" x2="151.70" y2="222.27" stroke="#f08a30" stroke-width="0.7" opacity="0.75"/>
<line x1="163.65" y1="233.31" x2="163.65" y2="237.73" stroke="#f08a30" stroke-width="0.8" opacity="0.75"/>
<line x1="162.45" y1="233.31" x2="164.85" y2="233.31" stroke="#f08a30" stroke-width="0.7" opacity="0.75"/>
<line x1="162.45" y1="237.73" x2="164.85" y2="237.73" stroke="#f08a30" stroke-width="0.7" opacity="0.75"/>
<path d="M124.20,192.46 L137.35,204.06 L150.50,218.96 L163.65,235.52" stroke="#f08a30" stroke-width="1.1" fill="none" stroke-linejoin="round"/>
<circle cx="124.20" cy="192.46" r="1.3" fill="#f08a30"/>
<circle cx="137.35" cy="204.06" r="1.3" fill="#f08a30"/>
<circle cx="150.50" cy="218.96" r="1.3" fill="#f08a30"/>
<circle cx="163.65" cy="235.52" r="1.3" fill="#f08a30"/>
<line x1="124.20" y1="197.98" x2="124.20" y2="203.50" stroke="#3aa040" stroke-width="0.8" opacity="0.75"/>
<line x1="123.00" y1="197.98" x2="125.40" y2="197.98" stroke="#3aa040" stroke-width="0.7" opacity="0.75"/>
<line x1="123.00" y1="203.50" x2="125.40" y2="203.50" stroke="#3aa040" stroke-width="0.7" opacity="0.75"/>
<line x1="137.35" y1="207.92" x2="137.35" y2="213.44" stroke="#3aa040" stroke-width="0.8" opacity="0.75"/>
<line x1="136.15" y1="207.92" x2="138.55" y2="207.92" stroke="#3aa040" stroke-width="0.7" opacity="0.75"/>
<line x1="136.15" y1="213.44" x2="138.55" y2="213.44" stroke="#3aa040" stroke-width="0.7" opacity="0.75"/>
<line x1="150.50" y1="222.27" x2="150.50" y2="228.90" stroke="#3aa040" stroke-width="0.8" opacity="0.75"/>
<line x1="149.30" y1="222.27" x2="151.70" y2="222.27" stroke="#3aa040" stroke-width="0.7" opacity="0.75"/>
<line x1="149.30" y1="228.90" x2="151.70" y2="228.90" stroke="#3aa040" stroke-width="0.7" opacity="0.75"/>
<line x1="163.65" y1="233.86" x2="163.65" y2="238.28" stroke="#3aa040" stroke-width="0.8" opacity="0.75"/>
<line x1="162.45" y1="233.86" x2="164.85" y2="233.86" stroke="#3aa040" stroke-width="0.7" opacity="0.75"/>
<line x1="162.45" y1="238.28" x2="164.85" y2="238.28" stroke="#3aa040" stroke-width="0.7" opacity="0.75"/>
<path d="M124.20,200.74 L137.35,210.68 L150.50,225.58 L163.65,236.07" stroke="#3aa040" stroke-width="1.1" fill="none" stroke-linejoin="round"/>
<circle cx="124.20" cy="200.74" r="1.3" fill="#3aa040"/>
<circle cx="137.35" cy="210.68" r="1.3" fill="#3aa040"/>
<circle cx="150.50" cy="225.58" r="1.3" fill="#3aa040"/>
<circle cx="163.65" cy="236.07" r="1.3" fill="#3aa040"/>
<line x1="124.20" y1="199.09" x2="124.20" y2="209.02" stroke="#222222" stroke-width="0.8" opacity="0.75"/>
<line x1="123.00" y1="199.09" x2="125.40" y2="199.09" stroke="#222222" stroke-width="0.7" opacity="0.75"/>
<line x1="123.00" y1="209.02" x2="125.40" y2="209.02" stroke="#222222" stroke-width="0.7" opacity="0.75"/>
<line x1="137.35" y1="210.13" x2="137.35" y2="218.96" stroke="#222222" stroke-width="0.8" opacity="0.75"/>
<line x1="136.15" y1="210.13" x2="138.55" y2="210.13" stroke="#222222" stroke-width="0.7" opacity="0.75"/>
<line x1="136.15" y1="218.96" x2="138.55" y2="218.96" stroke="#222222" stroke-width="0.7" opacity="0.75"/>
<line x1="150.50" y1="225.03" x2="150.50" y2="234.97" stroke="#222222" stroke-width="0.8" opacity="0.75"/>
<line x1="149.30" y1="225.03" x2="151.70" y2="225.03" stroke="#222222" stroke-width="0.7" opacity="0.75"/>
<line x1="149.30" y1="234.97" x2="151.70" y2="234.97" stroke="#222222" stroke-width="0.7" opacity="0.75"/>
<line x1="163.65" y1="234.42" x2="163.65" y2="238.83" stroke="#222222" stroke-width="0.8" opacity="0.75"/>
<line x1="162.45" y1="234.42" x2="164.85" y2="234.42" stroke="#222222" stroke-width="0.7" opacity="0.75"/>
<line x1="162.45" y1="238.83" x2="164.85" y2="238.83" stroke="#222222" stroke-width="0.7" opacity="0.75"/>
<path d="M124.20,204.06 L137.35,214.54 L150.50,230.00 L163.65,236.62" stroke="#222222" stroke-width="1.1" fill="none" stroke-linejoin="round"/>
<circle cx="124.20" cy="204.06" r="1.3" fill="#222222"/>
<circle cx="137.35" cy="214.54" r="1.3" fill="#222222"/>
<circle cx="150.50" cy="230.00" r="1.3" fill="#222222"/>
<circle cx="163.65" cy="236.62" r="1.3" fill="#222222"/>
<line x1="124.20" y1="189.70" x2="124.20" y2="191.91" stroke="#2020b0" stroke-width="0.8" opacity="0.75"/>
<line x1="123.00" y1="189.70" x2="125.40" y2="189.70" stroke="#2020b0" stroke-width="0.7" opacity="0.75"/>
<line x1="123.00" y1="191.91" x2="125.40" y2="191.91" stroke="#2020b0" stroke-width="0.7" opacity="0.75"/>
<line x1="137.35" y1="196.88" x2="137.35" y2="200.19" stroke="#2020b0" stroke-width="0.8" opacity="0.75"/>
<line x1="136.15" y1="196.88" x2="138.55" y2="196.88" stroke="#2020b0" stroke-width="0.7" opacity="0.75"/>
<line x1="136.15" y1="200.19" x2="138.55" y2="200.19" stroke="#2020b0" stroke-width="0.7" opacity="0.75"/>
<line x1="150.50" y1="211.23" x2="150.50" y2="217.86" stroke="#2020b0" stroke-width="0.8" opacity="0.75"/>
<line x1="149.30" y1="211.23" x2="151.70" y2="211.23" stroke="#2020b0" stroke-width="0.7" opacity="0.75"/>
<line x1="149.30" y1="217.86" x2="151.70" y2="217.86" stroke="#2020b0" stroke-width="0.7" opacity="0.75"/>
<line x1="163.65" y1="231.66" x2="163.65" y2="236.07" stroke="#2020b0" stroke-width="0.8" opacity="0.75"/>
<line x1="162.45" y1="231.66" x2="164.85" y2="231.66" stroke="#2020b0" stroke-width="0.7" opacity="0.75"/>
<line x1="162.45" y1="236.07" x2="164.85" y2="236.07" stroke="#2020b0" stroke-width="0.7" opacity="0.75"/>
<path d="M124.20,190.81 L137.35,198.54 L150.50,214.54 L163.65,233.86" stroke="#2020b0" stroke-width="1.1" fill="none" stroke-linejoin="round"/>
<circle cx="124.20" cy="190.81" r="1.3" fill="#2020b0"/>
<circle cx="137.35" cy="198.54" r="1.3" fill="#2020b0"/>
<circle cx="150.50" cy="214.54" r="1.3" fill="#2020b0"/>
<circle cx="163.65" cy="233.86" r="1.3" fill="#2020b0"/>
<line x1="124.20" y1="189.70" x2="124.20" y2="191.91" stroke="#58a0ea" stroke-width="0.8" opacity="0.75"/>
<line x1="123.00" y1="189.70" x2="125.40" y2="189.70" stroke="#58a0ea" stroke-width="0.7" opacity="0.75"/>
<line x1="123.00" y1="191.91" x2="125.40" y2="191.91" stroke="#58a0ea" stroke-width="0.7" opacity="0.75"/>
<line x1="137.35" y1="196.33" x2="137.35" y2="200.74" stroke="#58a0ea" stroke-width="0.8" opacity="0.75"/>
<line x1="136.15" y1="196.33" x2="138.55" y2="196.33" stroke="#58a0ea" stroke-width="0.7" opacity="0.75"/>
<line x1="136.15" y1="200.74" x2="138.55" y2="200.74" stroke="#58a0ea" stroke-width="0.7" opacity="0.75"/>
<line x1="150.50" y1="208.47" x2="150.50" y2="217.30" stroke="#58a0ea" stroke-width="0.8" opacity="0.75"/>
<line x1="149.30" y1="208.47" x2="151.70" y2="208.47" stroke="#58a0ea" stroke-width="0.7" opacity="0.75"/>
<line x1="149.30" y1="217.30" x2="151.70" y2="217.30" stroke="#58a0ea" stroke-width="0.7" opacity="0.75"/>
<line x1="163.65" y1="225.03" x2="163.65" y2="231.66" stroke="#58a0ea" stroke-width="0.8" opacity="0.75"/>
<line x1="162.45" y1="225.03" x2="164.85" y2="225.03" stroke="#58a0ea" stroke-width="0.7" opacity="0.75"/>
<line x1="162.45" y1="231.66" x2="164.85" y2="231.66" stroke="#58a0ea" stroke-width="0.7" opacity="0.75"/>
<path d="M124.20,190.81 L137.35,198.54 L150.50,212.89 L163.65,228.34" stroke="#58a0ea" stroke-width="1.1" fill="none" stroke-linejoin="round"/>
<circle cx="124.20" cy="190.81" r="1.3" fill="#58a0ea"/>
<circle cx="137.35" cy="198.54" r="1.3" fill="#58a0ea"/>
<circle cx="150.50" cy="212.89" r="1.3" fill="#58a0ea"/>
<circle cx="163.65" cy="228.34" r="1.3" fill="#58a0ea"/>
<line x1="124.20" y1="189.15" x2="124.20" y2="191.36" stroke="#5ae4f4" stroke-width="0.8" opacity="0.75"/>
<line x1="123.00" y1="189.15" x2="125.40" y2="189.15" stroke="#5ae4f4" stroke-width="0.7" opacity="0.75"/>
<line x1="123.00" y1="191.36" x2="125.40" y2="191.36" stroke="#5ae4f4" stroke-width="0.7" opacity="0.75"/>
<line x1="137.35" y1="195.78" x2="137.35" y2="200.19" stroke="#5ae4f4" stroke-width="0.8" opacity="0.75"/>
<line x1="136.15" y1="195.78" x2="138.55" y2="195.78" stroke="#5ae4f4" stroke-width="0.7" opacity="0.75"/>
<line x1="136.15" y1="200.19" x2="138.55" y2="200.19" stroke="#5ae4f4" stroke-width="0.7" opacity="0.75"/>
<line x1="150.50" y1="206.26" x2="150.50" y2="217.30" stroke="#5ae4f4" stroke-width="0.8" opacity="0.75"/>
<line x1="149.30" y1="206.26" x2="151.70" y2="206.26" stroke="#5ae4f4" stroke-width="0.7" opacity="0.75"/>
<line x1="149.30" y1="217.30" x2="151.70" y2="217.30" stroke="#5ae4f4" stroke-width="0.7" opacity="0.75"/>
<line x1="163.65" y1="222.82" x2="163.65" y2="231.66" stroke="#5ae4f4" stroke-width="0.8" opacity="0.75"/>
<line x1="162.45" y1="222.82" x2="164.85" y2="222.82" stroke="#5ae4f4" stroke-width="0.7" opacity="0.75"/>
<line x1="162.45" y1="231.66" x2="164.85" y2="231.66" stroke="#5ae4f4" stroke-width="0.7" opacity="0.75"/>
<path d="M124.20,190.26 L137.35,197.98 L150.50,211.78 L163.65,227.24" stroke="#5ae4f4" stroke-width="1.1" fill="none" stroke-linejoin="round"/>
<circle cx="124.20" cy="190.26" r="1.3" fill="#5ae4f4"/>
<circle cx="137.35" cy="197.98" r="1.3" fill="#5ae4f4"/>
<circle cx="150.50" cy="211.78" r="1.3" fill="#5ae4f4"/>
<circle cx="163.65" cy="227.24" r="1.3" fill="#5ae4f4"/>
<text x="221.60" y="177.10" font-size="8.4" font-weight="bold" text-anchor="middle" fill="#000" stroke="#000" stroke-width="0.45" textLength="32.20" lengthAdjust="spacingAndGlyphs">SKOV3</text>
<line x1="195.80" y1="187.80" x2="195.80" y2="244.50" stroke="#000" stroke-width="1.2"/>
<line x1="195.20" y1="243.90" x2="253.00" y2="243.90" stroke="#000" stroke-width="1.2"/>
<line x1="192.80" y1="243.90" x2="195.80" y2="243.90" stroke="#000" stroke-width="1.1"/>
<text x="192.50" y="247.30" font-size="8.6" font-weight="bold" text-anchor="end" fill="#000" stroke="#000" stroke-width="0.45" textLength="5.15" lengthAdjust="spacingAndGlyphs">0</text>
<line x1="192.80" y1="230.10" x2="195.80" y2="230.10" stroke="#000" stroke-width="1.1"/>
<text x="192.50" y="233.50" font-size="8.6" font-weight="bold" text-anchor="end" fill="#000" stroke="#000" stroke-width="0.45" textLength="10.30" lengthAdjust="spacingAndGlyphs">25</text>
<line x1="192.80" y1="216.30" x2="195.80" y2="216.30" stroke="#000" stroke-width="1.1"/>
<text x="192.50" y="219.70" font-size="8.6" font-weight="bold" text-anchor="end" fill="#000" stroke="#000" stroke-width="0.45" textLength="10.30" lengthAdjust="spacingAndGlyphs">50</text>
<line x1="192.80" y1="202.50" x2="195.80" y2="202.50" stroke="#000" stroke-width="1.1"/>
<text x="192.50" y="205.90" font-size="8.6" font-weight="bold" text-anchor="end" fill="#000" stroke="#000" stroke-width="0.45" textLength="10.30" lengthAdjust="spacingAndGlyphs">75</text>
<line x1="192.80" y1="188.70" x2="195.80" y2="188.70" stroke="#000" stroke-width="1.1"/>
<text x="192.50" y="192.10" font-size="8.6" font-weight="bold" text-anchor="end" fill="#000" stroke="#000" stroke-width="0.45" textLength="15.45" lengthAdjust="spacingAndGlyphs">100</text>
<line x1="205.10" y1="243.90" x2="205.10" y2="246.10" stroke="#000" stroke-width="1.0"/>
<line x1="218.25" y1="243.90" x2="218.25" y2="246.10" stroke="#000" stroke-width="1.0"/>
<line x1="231.40" y1="243.90" x2="231.40" y2="246.10" stroke="#000" stroke-width="1.0"/>
<line x1="244.55" y1="243.90" x2="244.55" y2="246.10" stroke="#000" stroke-width="1.0"/>
<text x="203.60" y="255.90" font-size="8.6" font-weight="bold" text-anchor="middle" fill="#000" stroke="#000" stroke-width="0.45" textLength="13.10" lengthAdjust="spacingAndGlyphs">10:1</text>
<text x="217.95" y="255.90" font-size="8.6" font-weight="bold" text-anchor="middle" fill="#000" stroke="#000" stroke-width="0.45" textLength="9.10" lengthAdjust="spacingAndGlyphs">3:1</text>
<text x="231.40" y="255.90" font-size="8.6" font-weight="bold" text-anchor="middle" fill="#000" stroke="#000" stroke-width="0.45" textLength="8.80" lengthAdjust="spacingAndGlyphs">1:1</text>
<text x="245.55" y="255.90" font-size="8.6" font-weight="bold" text-anchor="middle" fill="#000" stroke="#000" stroke-width="0.45" textLength="9.40" lengthAdjust="spacingAndGlyphs">1:3</text>
<text x="222.00" y="265.90" font-size="8.6" font-weight="bold" text-anchor="middle" fill="#000" stroke="#000" stroke-width="0.45" textLength="10.40" lengthAdjust="spacingAndGlyphs">E:T</text>
<line x1="205.10" y1="233.96" x2="205.10" y2="240.59" stroke="#f08a30" stroke-width="0.8" opacity="0.75"/>
<line x1="203.90" y1="233.96" x2="206.30" y2="233.96" stroke="#f08a30" stroke-width="0.7" opacity="0.75"/>
<line x1="203.90" y1="240.59" x2="206.30" y2="240.59" stroke="#f08a30" stroke-width="0.7" opacity="0.75"/>
<line x1="218.25" y1="242.80" x2="218.25" y2="243.90" stroke="#f08a30" stroke-width="0.8" opacity="0.75"/>
<line x1="217.05" y1="242.80" x2="219.45" y2="242.80" stroke="#f08a30" stroke-width="0.7" opacity="0.75"/>
<line x1="217.05" y1="243.90" x2="219.45" y2="243.90" stroke="#f08a30" stroke-width="0.7" opacity="0.75"/>
<path d="M205.10,237.28 L218.25,243.35 L231.40,243.90 L244.55,243.90" stroke="#f08a30" stroke-width="1.1" fill="none" stroke-linejoin="round"/>
<circle cx="205.10" cy="237.28" r="1.3" fill="#f08a30"/>
<circle cx="218.25" cy="243.35" r="1.3" fill="#f08a30"/>
<circle cx="231.40" cy="243.90" r="1.3" fill="#f08a30"/>
<circle cx="244.55" cy="243.90" r="1.3" fill="#f08a30"/>
<line x1="205.10" y1="231.20" x2="205.10" y2="240.04" stroke="#3aa040" stroke-width="0.8" opacity="0.75"/>
<line x1="203.90" y1="231.20" x2="206.30" y2="231.20" stroke="#3aa040" stroke-width="0.7" opacity="0.75"/>
<line x1="203.90" y1="240.04" x2="206.30" y2="240.04" stroke="#3aa040" stroke-width="0.7" opacity="0.75"/>
<line x1="218.25" y1="242.24" x2="218.25" y2="243.90" stroke="#3aa040" stroke-width="0.8" opacity="0.75"/>
<line x1="217.05" y1="242.24" x2="219.45" y2="242.24" stroke="#3aa040" stroke-width="0.7" opacity="0.75"/>
<line x1="217.05" y1="243.90" x2="219.45" y2="243.90" stroke="#3aa040" stroke-width="0.7" opacity="0.75"/>
<path d="M205.10,235.62 L218.25,243.35 L231.40,243.90 L244.55,243.90" stroke="#3aa040" stroke-width="1.1" fill="none" stroke-linejoin="round"/>
<circle cx="205.10" cy="235.62" r="1.3" fill="#3aa040"/>
<circle cx="218.25" cy="243.35" r="1.3" fill="#3aa040"/>
<circle cx="231.40" cy="243.90" r="1.3" fill="#3aa040"/>
<circle cx="244.55" cy="243.90" r="1.3" fill="#3aa040"/>
<line x1="205.10" y1="230.10" x2="205.10" y2="238.93" stroke="#222222" stroke-width="0.8" opacity="0.75"/>
<line x1="203.90" y1="230.10" x2="206.30" y2="230.10" stroke="#222222" stroke-width="0.7" opacity="0.75"/>
<line x1="203.90" y1="238.93" x2="206.30" y2="238.93" stroke="#222222" stroke-width="0.7" opacity="0.75"/>
<line x1="218.25" y1="242.24" x2="218.25" y2="243.90" stroke="#222222" stroke-width="0.8" opacity="0.75"/>
<line x1="217.05" y1="242.24" x2="219.45" y2="242.24" stroke="#222222" stroke-width="0.7" opacity="0.75"/>
<line x1="217.05" y1="243.90" x2="219.45" y2="243.90" stroke="#222222" stroke-width="0.7" opacity="0.75"/>
<path d="M205.10,234.52 L218.25,243.35 L231.40,243.90 L244.55,243.90" stroke="#222222" stroke-width="1.1" fill="none" stroke-linejoin="round"/>
<circle cx="205.10" cy="234.52" r="1.3" fill="#222222"/>
<circle cx="218.25" cy="243.35" r="1.3" fill="#222222"/>
<circle cx="231.40" cy="243.90" r="1.3" fill="#222222"/>
<circle cx="244.55" cy="243.90" r="1.3" fill="#222222"/>
<line x1="205.10" y1="214.64" x2="205.10" y2="225.68" stroke="#2020b0" stroke-width="0.8" opacity="0.75"/>
<line x1="203.90" y1="214.64" x2="206.30" y2="214.64" stroke="#2020b0" stroke-width="0.7" opacity="0.75"/>
<line x1="203.90" y1="225.68" x2="206.30" y2="225.68" stroke="#2020b0" stroke-width="0.7" opacity="0.75"/>
<line x1="218.25" y1="230.65" x2="218.25" y2="237.28" stroke="#2020b0" stroke-width="0.8" opacity="0.75"/>
<line x1="217.05" y1="230.65" x2="219.45" y2="230.65" stroke="#2020b0" stroke-width="0.7" opacity="0.75"/>
<line x1="217.05" y1="237.28" x2="219.45" y2="237.28" stroke="#2020b0" stroke-width="0.7" opacity="0.75"/>
<line x1="231.40" y1="242.80" x2="231.40" y2="243.90" stroke="#2020b0" stroke-width="0.8" opacity="0.75"/>
<line x1="230.20" y1="242.80" x2="232.60" y2="242.80" stroke="#2020b0" stroke-width="0.7" opacity="0.75"/>
<line x1="230.20" y1="243.90" x2="232.60" y2="243.90" stroke="#2020b0" stroke-width="0.7" opacity="0.75"/>
<line x1="244.55" y1="242.24" x2="244.55" y2="243.35" stroke="#2020b0" stroke-width="0.8" opacity="0.75"/>
<line x1="243.35" y1="242.24" x2="245.75" y2="242.24" stroke="#2020b0" stroke-width="0.7" opacity="0.75"/>
<line x1="243.35" y1="243.35" x2="245.75" y2="243.35" stroke="#2020b0" stroke-width="0.7" opacity="0.75"/>
<path d="M205.10,220.16 L218.25,233.96 L231.40,243.35 L244.55,242.80" stroke="#2020b0" stroke-width="1.1" fill="none" stroke-linejoin="round"/>
<circle cx="205.10" cy="220.16" r="1.3" fill="#2020b0"/>
<circle cx="218.25" cy="233.96" r="1.3" fill="#2020b0"/>
<circle cx="231.40" cy="243.35" r="1.3" fill="#2020b0"/>
<circle cx="244.55" cy="242.80" r="1.3" fill="#2020b0"/>
<line x1="205.10" y1="204.16" x2="205.10" y2="215.20" stroke="#58a0ea" stroke-width="0.8" opacity="0.75"/>
<line x1="203.90" y1="204.16" x2="206.30" y2="204.16" stroke="#58a0ea" stroke-width="0.7" opacity="0.75"/>
<line x1="203.90" y1="215.20" x2="206.30" y2="215.20" stroke="#58a0ea" stroke-width="0.7" opacity="0.75"/>
<line x1="218.25" y1="217.96" x2="218.25" y2="231.20" stroke="#58a0ea" stroke-width="0.8" opacity="0.75"/>
<line x1="217.05" y1="217.96" x2="219.45" y2="217.96" stroke="#58a0ea" stroke-width="0.7" opacity="0.75"/>
<line x1="217.05" y1="231.20" x2="219.45" y2="231.20" stroke="#58a0ea" stroke-width="0.7" opacity="0.75"/>
<line x1="231.40" y1="232.86" x2="231.40" y2="239.48" stroke="#58a0ea" stroke-width="0.8" opacity="0.75"/>
<line x1="230.20" y1="232.86" x2="232.60" y2="232.86" stroke="#58a0ea" stroke-width="0.7" opacity="0.75"/>
<line x1="230.20" y1="239.48" x2="232.60" y2="239.48" stroke="#58a0ea" stroke-width="0.7" opacity="0.75"/>
<line x1="244.55" y1="236.17" x2="244.55" y2="240.59" stroke="#58a0ea" stroke-width="0.8" opacity="0.75"/>
<line x1="243.35" y1="236.17" x2="245.75" y2="236.17" stroke="#58a0ea" stroke-width="0.7" opacity="0.75"/>
<line x1="243.35" y1="240.59" x2="245.75" y2="240.59" stroke="#58a0ea" stroke-width="0.7" opacity="0.75"/>
<path d="M205.10,209.68 L218.25,224.58 L231.40,236.17 L244.55,238.38" stroke="#58a0ea" stroke-width="1.1" fill="none" stroke-linejoin="round"/>
<circle cx="205.10" cy="209.68" r="1.3" fill="#58a0ea"/>
<circle cx="218.25" cy="224.58" r="1.3" fill="#58a0ea"/>
<circle cx="231.40" cy="236.17" r="1.3" fill="#58a0ea"/>
<circle cx="244.55" cy="238.38" r="1.3" fill="#58a0ea"/>
<line x1="205.10" y1="200.84" x2="205.10" y2="211.88" stroke="#5ae4f4" stroke-width="0.8" opacity="0.75"/>
<line x1="203.90" y1="200.84" x2="206.30" y2="200.84" stroke="#5ae4f4" stroke-width="0.7" opacity="0.75"/>
<line x1="203.90" y1="211.88" x2="206.30" y2="211.88" stroke="#5ae4f4" stroke-width="0.7" opacity="0.75"/>
<line x1="218.25" y1="216.30" x2="218.25" y2="229.55" stroke="#5ae4f4" stroke-width="0.8" opacity="0.75"/>
<line x1="217.05" y1="216.30" x2="219.45" y2="216.30" stroke="#5ae4f4" stroke-width="0.7" opacity="0.75"/>
<line x1="217.05" y1="229.55" x2="219.45" y2="229.55" stroke="#5ae4f4" stroke-width="0.7" opacity="0.75"/>
<line x1="231.40" y1="232.31" x2="231.40" y2="238.93" stroke="#5ae4f4" stroke-width="0.8" opacity="0.75"/>
<line x1="230.20" y1="232.31" x2="232.60" y2="232.31" stroke="#5ae4f4" stroke-width="0.7" opacity="0.75"/>
<line x1="230.20" y1="238.93" x2="232.60" y2="238.93" stroke="#5ae4f4" stroke-width="0.7" opacity="0.75"/>
<line x1="244.55" y1="236.17" x2="244.55" y2="240.59" stroke="#5ae4f4" stroke-width="0.8" opacity="0.75"/>
<line x1="243.35" y1="236.17" x2="245.75" y2="236.17" stroke="#5ae4f4" stroke-width="0.7" opacity="0.75"/>
<line x1="243.35" y1="240.59" x2="245.75" y2="240.59" stroke="#5ae4f4" stroke-width="0.7" opacity="0.75"/>
<path d="M205.10,206.36 L218.25,222.92 L231.40,235.62 L244.55,238.38" stroke="#5ae4f4" stroke-width="1.1" fill="none" stroke-linejoin="round"/>
<circle cx="205.10" cy="206.36" r="1.3" fill="#5ae4f4"/>
<circle cx="218.25" cy="222.92" r="1.3" fill="#5ae4f4"/>
<circle cx="231.40" cy="235.62" r="1.3" fill="#5ae4f4"/>
<circle cx="244.55" cy="238.38" r="1.3" fill="#5ae4f4"/>
<text x="300.20" y="177.10" font-size="8.4" font-weight="bold" text-anchor="middle" fill="#000" stroke="#000" stroke-width="0.45" textLength="28.70" lengthAdjust="spacingAndGlyphs">ASPC1</text>
<line x1="275.50" y1="187.80" x2="275.50" y2="244.50" stroke="#000" stroke-width="1.2"/>
<line x1="274.90" y1="243.90" x2="332.70" y2="243.90" stroke="#000" stroke-width="1.2"/>
<line x1="272.50" y1="243.90" x2="275.50" y2="243.90" stroke="#000" stroke-width="1.1"/>
<text x="272.20" y="247.30" font-size="8.6" font-weight="bold" text-anchor="end" fill="#000" stroke="#000" stroke-width="0.45" textLength="5.15" lengthAdjust="spacingAndGlyphs">0</text>
<line x1="272.50" y1="230.18" x2="275.50" y2="230.18" stroke="#000" stroke-width="1.1"/>
<text x="272.20" y="233.58" font-size="8.6" font-weight="bold" text-anchor="end" fill="#000" stroke="#000" stroke-width="0.45" textLength="10.30" lengthAdjust="spacingAndGlyphs">25</text>
<line x1="272.50" y1="216.45" x2="275.50" y2="216.45" stroke="#000" stroke-width="1.1"/>
<text x="272.20" y="219.85" font-size="8.6" font-weight="bold" text-anchor="end" fill="#000" stroke="#000" stroke-width="0.45" textLength="10.30" lengthAdjust="spacingAndGlyphs">50</text>
<line x1="272.50" y1="202.73" x2="275.50" y2="202.73" stroke="#000" stroke-width="1.1"/>
<text x="272.20" y="206.13" font-size="8.6" font-weight="bold" text-anchor="end" fill="#000" stroke="#000" stroke-width="0.45" textLength="10.30" lengthAdjust="spacingAndGlyphs">75</text>
<line x1="272.50" y1="189.00" x2="275.50" y2="189.00" stroke="#000" stroke-width="1.1"/>
<text x="272.20" y="192.40" font-size="8.6" font-weight="bold" text-anchor="end" fill="#000" stroke="#000" stroke-width="0.45" textLength="15.45" lengthAdjust="spacingAndGlyphs">100</text>
<line x1="284.00" y1="243.90" x2="284.00" y2="246.10" stroke="#000" stroke-width="1.0"/>
<line x1="297.15" y1="243.90" x2="297.15" y2="246.10" stroke="#000" stroke-width="1.0"/>
<line x1="310.30" y1="243.90" x2="310.30" y2="246.10" stroke="#000" stroke-width="1.0"/>
<line x1="323.45" y1="243.90" x2="323.45" y2="246.10" stroke="#000" stroke-width="1.0"/>
<text x="282.50" y="255.90" font-size="8.6" font-weight="bold" text-anchor="middle" fill="#000" stroke="#000" stroke-width="0.45" textLength="15.00" lengthAdjust="spacingAndGlyphs">10:1</text>
<text x="296.85" y="255.90" font-size="8.6" font-weight="bold" text-anchor="middle" fill="#000" stroke="#000" stroke-width="0.45" textLength="10.60" lengthAdjust="spacingAndGlyphs">3:1</text>
<text x="310.30" y="255.90" font-size="8.6" font-weight="bold" text-anchor="middle" fill="#000" stroke="#000" stroke-width="0.45" textLength="10.30" lengthAdjust="spacingAndGlyphs">1:1</text>
<text x="324.45" y="255.90" font-size="8.6" font-weight="bold" text-anchor="middle" fill="#000" stroke="#000" stroke-width="0.45" textLength="11.30" lengthAdjust="spacingAndGlyphs">1:3</text>
<text x="302.60" y="265.90" font-size="8.6" font-weight="bold" text-anchor="middle" fill="#000" stroke="#000" stroke-width="0.45" textLength="9.80" lengthAdjust="spacingAndGlyphs">E:T</text>
<line x1="284.00" y1="236.76" x2="284.00" y2="243.35" stroke="#f08a30" stroke-width="0.8" opacity="0.75"/>
<line x1="282.80" y1="236.76" x2="285.20" y2="236.76" stroke="#f08a30" stroke-width="0.7" opacity="0.75"/>
<line x1="282.80" y1="243.35" x2="285.20" y2="243.35" stroke="#f08a30" stroke-width="0.7" opacity="0.75"/>
<path d="M284.00,240.06 L297.15,243.90 L310.30,243.90 L323.45,243.90" stroke="#f08a30" stroke-width="1.1" fill="none" stroke-linejoin="round"/>
<circle cx="284.00" cy="240.06" r="1.3" fill="#f08a30"/>
<circle cx="297.15" cy="243.90" r="1.3" fill="#f08a30"/>
<circle cx="310.30" cy="243.90" r="1.3" fill="#f08a30"/>
<circle cx="323.45" cy="243.90" r="1.3" fill="#f08a30"/>
<line x1="284.00" y1="237.86" x2="284.00" y2="243.90" stroke="#3aa040" stroke-width="0.8" opacity="0.75"/>
<line x1="282.80" y1="237.86" x2="285.20" y2="237.86" stroke="#3aa040" stroke-width="0.7" opacity="0.75"/>
<line x1="282.80" y1="243.90" x2="285.20" y2="243.90" stroke="#3aa040" stroke-width="0.7" opacity="0.75"/>
<path d="M284.00,241.16 L297.15,243.90 L310.30,243.90 L323.45,243.90" stroke="#3aa040" stroke-width="1.1" fill="none" stroke-linejoin="round"/>
<circle cx="284.00" cy="241.16" r="1.3" fill="#3aa040"/>
<circle cx="297.15" cy="243.90" r="1.3" fill="#3aa040"/>
<circle cx="310.30" cy="243.90" r="1.3" fill="#3aa040"/>
<circle cx="323.45" cy="243.90" r="1.3" fill="#3aa040"/>
<line x1="284.00" y1="235.12" x2="284.00" y2="243.90" stroke="#222222" stroke-width="0.8" opacity="0.75"/>
<line x1="282.80" y1="235.12" x2="285.20" y2="235.12" stroke="#222222" stroke-width="0.7" opacity="0.75"/>
<line x1="282.80" y1="243.90" x2="285.20" y2="243.90" stroke="#222222" stroke-width="0.7" opacity="0.75"/>
<path d="M284.00,239.51 L297.15,243.90 L310.30,243.90 L323.45,243.90" stroke="#222222" stroke-width="1.1" fill="none" stroke-linejoin="round"/>
<circle cx="284.00" cy="239.51" r="1.3" fill="#222222"/>
<circle cx="297.15" cy="243.90" r="1.3" fill="#222222"/>
<circle cx="310.30" cy="243.90" r="1.3" fill="#222222"/>
<circle cx="323.45" cy="243.90" r="1.3" fill="#222222"/>
<line x1="284.00" y1="212.61" x2="284.00" y2="225.78" stroke="#2020b0" stroke-width="0.8" opacity="0.75"/>
<line x1="282.80" y1="212.61" x2="285.20" y2="212.61" stroke="#2020b0" stroke-width="0.7" opacity="0.75"/>
<line x1="282.80" y1="225.78" x2="285.20" y2="225.78" stroke="#2020b0" stroke-width="0.7" opacity="0.75"/>
<line x1="297.15" y1="229.63" x2="297.15" y2="238.41" stroke="#2020b0" stroke-width="0.8" opacity="0.75"/>
<line x1="295.95" y1="229.63" x2="298.35" y2="229.63" stroke="#2020b0" stroke-width="0.7" opacity="0.75"/>
<line x1="295.95" y1="238.41" x2="298.35" y2="238.41" stroke="#2020b0" stroke-width="0.7" opacity="0.75"/>
<path d="M284.00,219.19 L297.15,234.02 L310.30,243.90 L323.45,243.90" stroke="#2020b0" stroke-width="1.1" fill="none" stroke-linejoin="round"/>
<circle cx="284.00" cy="219.19" r="1.3" fill="#2020b0"/>
<circle cx="297.15" cy="234.02" r="1.3" fill="#2020b0"/>
<circle cx="310.30" cy="243.90" r="1.3" fill="#2020b0"/>
<circle cx="323.45" cy="243.90" r="1.3" fill="#2020b0"/>
<line x1="284.00" y1="204.92" x2="284.00" y2="211.51" stroke="#58a0ea" stroke-width="0.8" opacity="0.75"/>
<line x1="282.80" y1="204.92" x2="285.20" y2="204.92" stroke="#58a0ea" stroke-width="0.7" opacity="0.75"/>
<line x1="282.80" y1="211.51" x2="285.20" y2="211.51" stroke="#58a0ea" stroke-width="0.7" opacity="0.75"/>
<line x1="297.15" y1="221.39" x2="297.15" y2="226.88" stroke="#58a0ea" stroke-width="0.8" opacity="0.75"/>
<line x1="295.95" y1="221.39" x2="298.35" y2="221.39" stroke="#58a0ea" stroke-width="0.7" opacity="0.75"/>
<line x1="295.95" y1="226.88" x2="298.35" y2="226.88" stroke="#58a0ea" stroke-width="0.7" opacity="0.75"/>
<line x1="310.30" y1="234.57" x2="310.30" y2="240.06" stroke="#58a0ea" stroke-width="0.8" opacity="0.75"/>
<line x1="309.10" y1="234.57" x2="311.50" y2="234.57" stroke="#58a0ea" stroke-width="0.7" opacity="0.75"/>
<line x1="309.10" y1="240.06" x2="311.50" y2="240.06" stroke="#58a0ea" stroke-width="0.7" opacity="0.75"/>
<line x1="323.45" y1="237.86" x2="323.45" y2="242.25" stroke="#58a0ea" stroke-width="0.8" opacity="0.75"/>
<line x1="322.25" y1="237.86" x2="324.65" y2="237.86" stroke="#58a0ea" stroke-width="0.7" opacity="0.75"/>
<line x1="322.25" y1="242.25" x2="324.65" y2="242.25" stroke="#58a0ea" stroke-width="0.7" opacity="0.75"/>
<path d="M284.00,208.22 L297.15,224.14 L310.30,237.31 L323.45,240.06" stroke="#58a0ea" stroke-width="1.1" fill="none" stroke-linejoin="round"/>
<circle cx="284.00" cy="208.22" r="1.3" fill="#58a0ea"/>
<circle cx="297.15" cy="224.14" r="1.3" fill="#58a0ea"/>
<circle cx="310.30" cy="237.31" r="1.3" fill="#58a0ea"/>
<circle cx="323.45" cy="240.06" r="1.3" fill="#58a0ea"/>
<line x1="284.00" y1="208.76" x2="284.00" y2="221.94" stroke="#5ae4f4" stroke-width="0.8" opacity="0.75"/>
<line x1="282.80" y1="208.76" x2="285.20" y2="208.76" stroke="#5ae4f4" stroke-width="0.7" opacity="0.75"/>
<line x1="282.80" y1="221.94" x2="285.20" y2="221.94" stroke="#5ae4f4" stroke-width="0.7" opacity="0.75"/>
<line x1="297.15" y1="224.69" x2="297.15" y2="233.47" stroke="#5ae4f4" stroke-width="0.8" opacity="0.75"/>
<line x1="295.95" y1="224.69" x2="298.35" y2="224.69" stroke="#5ae4f4" stroke-width="0.7" opacity="0.75"/>
<line x1="295.95" y1="233.47" x2="298.35" y2="233.47" stroke="#5ae4f4" stroke-width="0.7" opacity="0.75"/>
<line x1="310.30" y1="241.16" x2="310.30" y2="243.90" stroke="#5ae4f4" stroke-width="0.8" opacity="0.75"/>
<line x1="309.10" y1="241.16" x2="311.50" y2="241.16" stroke="#5ae4f4" stroke-width="0.7" opacity="0.75"/>
<line x1="309.10" y1="243.90" x2="311.50" y2="243.90" stroke="#5ae4f4" stroke-width="0.7" opacity="0.75"/>
<line x1="323.45" y1="242.25" x2="323.45" y2="243.90" stroke="#5ae4f4" stroke-width="0.8" opacity="0.75"/>
<line x1="322.25" y1="242.25" x2="324.65" y2="242.25" stroke="#5ae4f4" stroke-width="0.7" opacity="0.75"/>
<line x1="322.25" y1="243.90" x2="324.65" y2="243.90" stroke="#5ae4f4" stroke-width="0.7" opacity="0.75"/>
<path d="M284.00,215.35 L297.15,229.08 L310.30,242.80 L323.45,243.35" stroke="#5ae4f4" stroke-width="1.1" fill="none" stroke-linejoin="round"/>
<circle cx="284.00" cy="215.35" r="1.3" fill="#5ae4f4"/>
<circle cx="297.15" cy="229.08" r="1.3" fill="#5ae4f4"/>
<circle cx="310.30" cy="242.80" r="1.3" fill="#5ae4f4"/>
<circle cx="323.45" cy="243.35" r="1.3" fill="#5ae4f4"/>
<text x="380.00" y="177.10" font-size="8.4" font-weight="bold" text-anchor="middle" fill="#000" stroke="#000" stroke-width="0.45" textLength="25.50" lengthAdjust="spacingAndGlyphs">MM.1S</text>
<line x1="354.80" y1="187.80" x2="354.80" y2="244.50" stroke="#000" stroke-width="1.2"/>
<line x1="354.20" y1="243.90" x2="412.00" y2="243.90" stroke="#000" stroke-width="1.2"/>
<line x1="351.80" y1="243.90" x2="354.80" y2="243.90" stroke="#000" stroke-width="1.1"/>
<text x="351.50" y="247.30" font-size="8.6" font-weight="bold" text-anchor="end" fill="#000" stroke="#000" stroke-width="0.45" textLength="5.15" lengthAdjust="spacingAndGlyphs">0</text>
<line x1="351.80" y1="230.05" x2="354.80" y2="230.05" stroke="#000" stroke-width="1.1"/>
<text x="351.50" y="233.45" font-size="8.6" font-weight="bold" text-anchor="end" fill="#000" stroke="#000" stroke-width="0.45" textLength="10.30" lengthAdjust="spacingAndGlyphs">25</text>
<line x1="351.80" y1="216.20" x2="354.80" y2="216.20" stroke="#000" stroke-width="1.1"/>
<text x="351.50" y="219.60" font-size="8.6" font-weight="bold" text-anchor="end" fill="#000" stroke="#000" stroke-width="0.45" textLength="10.30" lengthAdjust="spacingAndGlyphs">50</text>
<line x1="351.80" y1="202.35" x2="354.80" y2="202.35" stroke="#000" stroke-width="1.1"/>
<text x="351.50" y="205.75" font-size="8.6" font-weight="bold" text-anchor="end" fill="#000" stroke="#000" stroke-width="0.45" textLength="10.30" lengthAdjust="spacingAndGlyphs">75</text>
<line x1="351.80" y1="188.50" x2="354.80" y2="188.50" stroke="#000" stroke-width="1.1"/>
<text x="351.50" y="191.90" font-size="8.6" font-weight="bold" text-anchor="end" fill="#000" stroke="#000" stroke-width="0.45" textLength="15.45" lengthAdjust="spacingAndGlyphs">100</text>
<line x1="363.80" y1="243.90" x2="363.80" y2="246.10" stroke="#000" stroke-width="1.0"/>
<line x1="376.95" y1="243.90" x2="376.95" y2="246.10" stroke="#000" stroke-width="1.0"/>
<line x1="390.10" y1="243.90" x2="390.10" y2="246.10" stroke="#000" stroke-width="1.0"/>
<line x1="403.25" y1="243.90" x2="403.25" y2="246.10" stroke="#000" stroke-width="1.0"/>
<text x="362.30" y="255.90" font-size="8.6" font-weight="bold" text-anchor="middle" fill="#000" stroke="#000" stroke-width="0.45" textLength="13.50" lengthAdjust="spacingAndGlyphs">10:1</text>
<text x="376.65" y="255.90" font-size="8.6" font-weight="bold" text-anchor="middle" fill="#000" stroke="#000" stroke-width="0.45" textLength="10.60" lengthAdjust="spacingAndGlyphs">3:1</text>
<text x="390.10" y="255.90" font-size="8.6" font-weight="bold" text-anchor="middle" fill="#000" stroke="#000" stroke-width="0.45" textLength="9.40" lengthAdjust="spacingAndGlyphs">1:1</text>
<text x="404.25" y="255.90" font-size="8.6" font-weight="bold" text-anchor="middle" fill="#000" stroke="#000" stroke-width="0.45" textLength="10.60" lengthAdjust="spacingAndGlyphs">1:3</text>
<text x="383.25" y="265.90" font-size="8.6" font-weight="bold" text-anchor="middle" fill="#000" stroke="#000" stroke-width="0.45" textLength="11.00" lengthAdjust="spacingAndGlyphs">E:T</text>
<line x1="363.80" y1="231.71" x2="363.80" y2="240.58" stroke="#f08a30" stroke-width="0.8" opacity="0.75"/>
<line x1="362.60" y1="231.71" x2="365.00" y2="231.71" stroke="#f08a30" stroke-width="0.7" opacity="0.75"/>
<line x1="362.60" y1="240.58" x2="365.00" y2="240.58" stroke="#f08a30" stroke-width="0.7" opacity="0.75"/>
<line x1="376.95" y1="241.68" x2="376.95" y2="243.90" stroke="#f08a30" stroke-width="0.8" opacity="0.75"/>
<line x1="375.75" y1="241.68" x2="378.15" y2="241.68" stroke="#f08a30" stroke-width="0.7" opacity="0.75"/>
<line x1="375.75" y1="243.90" x2="378.15" y2="243.90" stroke="#f08a30" stroke-width="0.7" opacity="0.75"/>
<path d="M363.80,236.14 L376.95,242.79 L390.10,243.90 L403.25,243.90" stroke="#f08a30" stroke-width="1.1" fill="none" stroke-linejoin="round"/>
<circle cx="363.80" cy="236.14" r="1.3" fill="#f08a30"/>
<circle cx="376.95" cy="242.79" r="1.3" fill="#f08a30"/>
<circle cx="390.10" cy="243.90" r="1.3" fill="#f08a30"/>
<circle cx="403.25" cy="243.90" r="1.3" fill="#f08a30"/>
<line x1="363.80" y1="236.14" x2="363.80" y2="242.79" stroke="#3aa040" stroke-width="0.8" opacity="0.75"/>
<line x1="362.60" y1="236.14" x2="365.00" y2="236.14" stroke="#3aa040" stroke-width="0.7" opacity="0.75"/>
<line x1="362.60" y1="242.79" x2="365.00" y2="242.79" stroke="#3aa040" stroke-width="0.7" opacity="0.75"/>
<line x1="376.95" y1="242.24" x2="376.95" y2="243.35" stroke="#3aa040" stroke-width="0.8" opacity="0.75"/>
<line x1="375.75" y1="242.24" x2="378.15" y2="242.24" stroke="#3aa040" stroke-width="0.7" opacity="0.75"/>
<line x1="375.75" y1="243.35" x2="378.15" y2="243.35" stroke="#3aa040" stroke-width="0.7" opacity="0.75"/>
<path d="M363.80,239.47 L376.95,242.79 L390.10,243.90 L403.25,243.90" stroke="#3aa040" stroke-width="1.1" fill="none" stroke-linejoin="round"/>
<circle cx="363.80" cy="239.47" r="1.3" fill="#3aa040"/>
<circle cx="376.95" cy="242.79" r="1.3" fill="#3aa040"/>
<circle cx="390.10" cy="243.90" r="1.3" fill="#3aa040"/>
<circle cx="403.25" cy="243.90" r="1.3" fill="#3aa040"/>
<line x1="363.80" y1="239.47" x2="363.80" y2="242.79" stroke="#222222" stroke-width="0.8" opacity="0.75"/>
<line x1="362.60" y1="239.47" x2="365.00" y2="239.47" stroke="#222222" stroke-width="0.7" opacity="0.75"/>
<line x1="362.60" y1="242.79" x2="365.00" y2="242.79" stroke="#222222" stroke-width="0.7" opacity="0.75"/>
<line x1="376.95" y1="242.24" x2="376.95" y2="243.35" stroke="#222222" stroke-width="0.8" opacity="0.75"/>
<line x1="375.75" y1="242.24" x2="378.15" y2="242.24" stroke="#222222" stroke-width="0.7" opacity="0.75"/>
<line x1="375.75" y1="243.35" x2="378.15" y2="243.35" stroke="#222222" stroke-width="0.7" opacity="0.75"/>
<path d="M363.80,241.13 L376.95,242.79 L390.10,243.90 L403.25,243.90" stroke="#222222" stroke-width="1.1" fill="none" stroke-linejoin="round"/>
<circle cx="363.80" cy="241.13" r="1.3" fill="#222222"/>
<circle cx="376.95" cy="242.79" r="1.3" fill="#222222"/>
<circle cx="390.10" cy="243.90" r="1.3" fill="#222222"/>
<circle cx="403.25" cy="243.90" r="1.3" fill="#222222"/>
<line x1="363.80" y1="211.77" x2="363.80" y2="227.28" stroke="#2020b0" stroke-width="0.8" opacity="0.75"/>
<line x1="362.60" y1="211.77" x2="365.00" y2="211.77" stroke="#2020b0" stroke-width="0.7" opacity="0.75"/>
<line x1="362.60" y1="227.28" x2="365.00" y2="227.28" stroke="#2020b0" stroke-width="0.7" opacity="0.75"/>
<line x1="376.95" y1="239.47" x2="376.95" y2="243.90" stroke="#2020b0" stroke-width="0.8" opacity="0.75"/>
<line x1="375.75" y1="239.47" x2="378.15" y2="239.47" stroke="#2020b0" stroke-width="0.7" opacity="0.75"/>
<line x1="375.75" y1="243.90" x2="378.15" y2="243.90" stroke="#2020b0" stroke-width="0.7" opacity="0.75"/>
<line x1="390.10" y1="242.79" x2="390.10" y2="243.90" stroke="#2020b0" stroke-width="0.8" opacity="0.75"/>
<line x1="388.90" y1="242.79" x2="391.30" y2="242.79" stroke="#2020b0" stroke-width="0.7" opacity="0.75"/>
<line x1="388.90" y1="243.90" x2="391.30" y2="243.90" stroke="#2020b0" stroke-width="0.7" opacity="0.75"/>
<path d="M363.80,219.52 L376.95,242.79 L390.10,243.35 L403.25,243.90" stroke="#2020b0" stroke-width="1.1" fill="none" stroke-linejoin="round"/>
<circle cx="363.80" cy="219.52" r="1.3" fill="#2020b0"/>
<circle cx="376.95" cy="242.79" r="1.3" fill="#2020b0"/>
<circle cx="390.10" cy="243.35" r="1.3" fill="#2020b0"/>
<circle cx="403.25" cy="243.90" r="1.3" fill="#2020b0"/>
<line x1="363.80" y1="200.69" x2="363.80" y2="209.55" stroke="#58a0ea" stroke-width="0.8" opacity="0.75"/>
<line x1="362.60" y1="200.69" x2="365.00" y2="200.69" stroke="#58a0ea" stroke-width="0.7" opacity="0.75"/>
<line x1="362.60" y1="209.55" x2="365.00" y2="209.55" stroke="#58a0ea" stroke-width="0.7" opacity="0.75"/>
<line x1="376.95" y1="223.96" x2="376.95" y2="230.60" stroke="#58a0ea" stroke-width="0.8" opacity="0.75"/>
<line x1="375.75" y1="223.96" x2="378.15" y2="223.96" stroke="#58a0ea" stroke-width="0.7" opacity="0.75"/>
<line x1="375.75" y1="230.60" x2="378.15" y2="230.60" stroke="#58a0ea" stroke-width="0.7" opacity="0.75"/>
<line x1="390.10" y1="242.79" x2="390.10" y2="243.90" stroke="#58a0ea" stroke-width="0.8" opacity="0.75"/>
<line x1="388.90" y1="242.79" x2="391.30" y2="242.79" stroke="#58a0ea" stroke-width="0.7" opacity="0.75"/>
<line x1="388.90" y1="243.90" x2="391.30" y2="243.90" stroke="#58a0ea" stroke-width="0.7" opacity="0.75"/>
<path d="M363.80,205.12 L376.95,227.28 L390.10,243.35 L403.25,243.90" stroke="#58a0ea" stroke-width="1.1" fill="none" stroke-linejoin="round"/>
<circle cx="363.80" cy="205.12" r="1.3" fill="#58a0ea"/>
<circle cx="376.95" cy="227.28" r="1.3" fill="#58a0ea"/>
<circle cx="390.10" cy="243.35" r="1.3" fill="#58a0ea"/>
<circle cx="403.25" cy="243.90" r="1.3" fill="#58a0ea"/>
<line x1="363.80" y1="199.03" x2="363.80" y2="207.89" stroke="#5ae4f4" stroke-width="0.8" opacity="0.75"/>
<line x1="362.60" y1="199.03" x2="365.00" y2="199.03" stroke="#5ae4f4" stroke-width="0.7" opacity="0.75"/>
<line x1="362.60" y1="207.89" x2="365.00" y2="207.89" stroke="#5ae4f4" stroke-width="0.7" opacity="0.75"/>
<line x1="376.95" y1="221.19" x2="376.95" y2="227.83" stroke="#5ae4f4" stroke-width="0.8" opacity="0.75"/>
<line x1="375.75" y1="221.19" x2="378.15" y2="221.19" stroke="#5ae4f4" stroke-width="0.7" opacity="0.75"/>
<line x1="375.75" y1="227.83" x2="378.15" y2="227.83" stroke="#5ae4f4" stroke-width="0.7" opacity="0.75"/>
<line x1="390.10" y1="242.79" x2="390.10" y2="243.90" stroke="#5ae4f4" stroke-width="0.8" opacity="0.75"/>
<line x1="388.90" y1="242.79" x2="391.30" y2="242.79" stroke="#5ae4f4" stroke-width="0.7" opacity="0.75"/>
<line x1="388.90" y1="243.90" x2="391.30" y2="243.90" stroke="#5ae4f4" stroke-width="0.7" opacity="0.75"/>
<path d="M363.80,203.46 L376.95,224.51 L390.10,243.35 L403.25,243.90" stroke="#5ae4f4" stroke-width="1.1" fill="none" stroke-linejoin="round"/>
<circle cx="363.80" cy="203.46" r="1.3" fill="#5ae4f4"/>
<circle cx="376.95" cy="224.51" r="1.3" fill="#5ae4f4"/>
<circle cx="390.10" cy="243.35" r="1.3" fill="#5ae4f4"/>
<circle cx="403.25" cy="243.90" r="1.3" fill="#5ae4f4"/>
<text x="464.20" y="177.10" font-size="8.4" font-weight="bold" text-anchor="middle" fill="#000" stroke="#000" stroke-width="0.45" textLength="15.50" lengthAdjust="spacingAndGlyphs">Raji</text>
<line x1="434.80" y1="187.80" x2="434.80" y2="244.50" stroke="#000" stroke-width="1.2"/>
<line x1="434.20" y1="243.90" x2="492.00" y2="243.90" stroke="#000" stroke-width="1.2"/>
<line x1="431.80" y1="243.90" x2="434.80" y2="243.90" stroke="#000" stroke-width="1.1"/>
<text x="431.50" y="247.30" font-size="8.6" font-weight="bold" text-anchor="end" fill="#000" stroke="#000" stroke-width="0.45" textLength="5.15" lengthAdjust="spacingAndGlyphs">0</text>
<line x1="431.80" y1="230.00" x2="434.80" y2="230.00" stroke="#000" stroke-width="1.1"/>
<text x="431.50" y="233.40" font-size="8.6" font-weight="bold" text-anchor="end" fill="#000" stroke="#000" stroke-width="0.45" textLength="10.30" lengthAdjust="spacingAndGlyphs">25</text>
<line x1="431.80" y1="216.10" x2="434.80" y2="216.10" stroke="#000" stroke-width="1.1"/>
<text x="431.50" y="219.50" font-size="8.6" font-weight="bold" text-anchor="end" fill="#000" stroke="#000" stroke-width="0.45" textLength="10.30" lengthAdjust="spacingAndGlyphs">50</text>
<line x1="431.80" y1="202.20" x2="434.80" y2="202.20" stroke="#000" stroke-width="1.1"/>
<text x="431.50" y="205.60" font-size="8.6" font-weight="bold" text-anchor="end" fill="#000" stroke="#000" stroke-width="0.45" textLength="10.30" lengthAdjust="spacingAndGlyphs">75</text>
<line x1="431.80" y1="188.30" x2="434.80" y2="188.30" stroke="#000" stroke-width="1.1"/>
<text x="431.50" y="191.70" font-size="8.6" font-weight="bold" text-anchor="end" fill="#000" stroke="#000" stroke-width="0.45" textLength="15.45" lengthAdjust="spacingAndGlyphs">100</text>
<line x1="443.60" y1="243.90" x2="443.60" y2="246.10" stroke="#000" stroke-width="1.0"/>
<line x1="456.75" y1="243.90" x2="456.75" y2="246.10" stroke="#000" stroke-width="1.0"/>
<line x1="469.90" y1="243.90" x2="469.90" y2="246.10" stroke="#000" stroke-width="1.0"/>
<line x1="483.05" y1="243.90" x2="483.05" y2="246.10" stroke="#000" stroke-width="1.0"/>
<text x="442.10" y="255.90" font-size="8.6" font-weight="bold" text-anchor="middle" fill="#000" stroke="#000" stroke-width="0.45" textLength="13.10" lengthAdjust="spacingAndGlyphs">10:1</text>
<text x="456.45" y="255.90" font-size="8.6" font-weight="bold" text-anchor="middle" fill="#000" stroke="#000" stroke-width="0.45" textLength="9.40" lengthAdjust="spacingAndGlyphs">3:1</text>
<text x="469.90" y="255.90" font-size="8.6" font-weight="bold" text-anchor="middle" fill="#000" stroke="#000" stroke-width="0.45" textLength="8.10" lengthAdjust="spacingAndGlyphs">1:1</text>
<text x="484.05" y="255.90" font-size="8.6" font-weight="bold" text-anchor="middle" fill="#000" stroke="#000" stroke-width="0.45" textLength="9.40" lengthAdjust="spacingAndGlyphs">1:3</text>
<text x="463.10" y="265.90" font-size="8.6" font-weight="bold" text-anchor="middle" fill="#000" stroke="#000" stroke-width="0.45" textLength="10.00" lengthAdjust="spacingAndGlyphs">E:T</text>
<line x1="443.60" y1="240.01" x2="443.60" y2="243.34" stroke="#f08a30" stroke-width="0.8" opacity="0.75"/>
<line x1="442.40" y1="240.01" x2="444.80" y2="240.01" stroke="#f08a30" stroke-width="0.7" opacity="0.75"/>
<line x1="442.40" y1="243.34" x2="444.80" y2="243.34" stroke="#f08a30" stroke-width="0.7" opacity="0.75"/>
<path d="M443.60,241.68 L456.75,243.90 L469.90,243.90 L483.05,243.90" stroke="#f08a30" stroke-width="1.1" fill="none" stroke-linejoin="round"/>
<circle cx="443.60" cy="241.68" r="1.3" fill="#f08a30"/>
<circle cx="456.75" cy="243.90" r="1.3" fill="#f08a30"/>
<circle cx="469.90" cy="243.90" r="1.3" fill="#f08a30"/>
<circle cx="483.05" cy="243.90" r="1.3" fill="#f08a30"/>
<line x1="443.60" y1="230.00" x2="443.60" y2="238.90" stroke="#3aa040" stroke-width="0.8" opacity="0.75"/>
<line x1="442.40" y1="230.00" x2="444.80" y2="230.00" stroke="#3aa040" stroke-width="0.7" opacity="0.75"/>
<line x1="442.40" y1="238.90" x2="444.80" y2="238.90" stroke="#3aa040" stroke-width="0.7" opacity="0.75"/>
<line x1="456.75" y1="239.45" x2="456.75" y2="242.79" stroke="#3aa040" stroke-width="0.8" opacity="0.75"/>
<line x1="455.55" y1="239.45" x2="457.95" y2="239.45" stroke="#3aa040" stroke-width="0.7" opacity="0.75"/>
<line x1="455.55" y1="242.79" x2="457.95" y2="242.79" stroke="#3aa040" stroke-width="0.7" opacity="0.75"/>
<line x1="469.90" y1="242.23" x2="469.90" y2="243.34" stroke="#3aa040" stroke-width="0.8" opacity="0.75"/>
<line x1="468.70" y1="242.23" x2="471.10" y2="242.23" stroke="#3aa040" stroke-width="0.7" opacity="0.75"/>
<line x1="468.70" y1="243.34" x2="471.10" y2="243.34" stroke="#3aa040" stroke-width="0.7" opacity="0.75"/>
<line x1="483.05" y1="242.79" x2="483.05" y2="243.90" stroke="#3aa040" stroke-width="0.8" opacity="0.75"/>
<line x1="481.85" y1="242.79" x2="484.25" y2="242.79" stroke="#3aa040" stroke-width="0.7" opacity="0.75"/>
<line x1="481.85" y1="243.90" x2="484.25" y2="243.90" stroke="#3aa040" stroke-width="0.7" opacity="0.75"/>
<path d="M443.60,234.45 L456.75,241.12 L469.90,242.79 L483.05,243.34" stroke="#3aa040" stroke-width="1.1" fill="none" stroke-linejoin="round"/>
<circle cx="443.60" cy="234.45" r="1.3" fill="#3aa040"/>
<circle cx="456.75" cy="241.12" r="1.3" fill="#3aa040"/>
<circle cx="469.90" cy="242.79" r="1.3" fill="#3aa040"/>
<circle cx="483.05" cy="243.34" r="1.3" fill="#3aa040"/>
<line x1="443.60" y1="237.78" x2="443.60" y2="242.23" stroke="#222222" stroke-width="0.8" opacity="0.75"/>
<line x1="442.40" y1="237.78" x2="444.80" y2="237.78" stroke="#222222" stroke-width="0.7" opacity="0.75"/>
<line x1="442.40" y1="242.23" x2="444.80" y2="242.23" stroke="#222222" stroke-width="0.7" opacity="0.75"/>
<line x1="456.75" y1="242.79" x2="456.75" y2="243.90" stroke="#222222" stroke-width="0.8" opacity="0.75"/>
<line x1="455.55" y1="242.79" x2="457.95" y2="242.79" stroke="#222222" stroke-width="0.7" opacity="0.75"/>
<line x1="455.55" y1="243.90" x2="457.95" y2="243.90" stroke="#222222" stroke-width="0.7" opacity="0.75"/>
<path d="M443.60,240.01 L456.75,243.34 L469.90,243.90 L483.05,243.90" stroke="#222222" stroke-width="1.1" fill="none" stroke-linejoin="round"/>
<circle cx="443.60" cy="240.01" r="1.3" fill="#222222"/>
<circle cx="456.75" cy="243.34" r="1.3" fill="#222222"/>
<circle cx="469.90" cy="243.90" r="1.3" fill="#222222"/>
<circle cx="483.05" cy="243.90" r="1.3" fill="#222222"/>
<line x1="443.60" y1="204.98" x2="443.60" y2="220.55" stroke="#2020b0" stroke-width="0.8" opacity="0.75"/>
<line x1="442.40" y1="204.98" x2="444.80" y2="204.98" stroke="#2020b0" stroke-width="0.7" opacity="0.75"/>
<line x1="442.40" y1="220.55" x2="444.80" y2="220.55" stroke="#2020b0" stroke-width="0.7" opacity="0.75"/>
<line x1="456.75" y1="221.66" x2="456.75" y2="232.78" stroke="#2020b0" stroke-width="0.8" opacity="0.75"/>
<line x1="455.55" y1="221.66" x2="457.95" y2="221.66" stroke="#2020b0" stroke-width="0.7" opacity="0.75"/>
<line x1="455.55" y1="232.78" x2="457.95" y2="232.78" stroke="#2020b0" stroke-width="0.7" opacity="0.75"/>
<line x1="469.90" y1="235.00" x2="469.90" y2="239.45" stroke="#2020b0" stroke-width="0.8" opacity="0.75"/>
<line x1="468.70" y1="235.00" x2="471.10" y2="235.00" stroke="#2020b0" stroke-width="0.7" opacity="0.75"/>
<line x1="468.70" y1="239.45" x2="471.10" y2="239.45" stroke="#2020b0" stroke-width="0.7" opacity="0.75"/>
<line x1="483.05" y1="238.90" x2="483.05" y2="241.12" stroke="#2020b0" stroke-width="0.8" opacity="0.75"/>
<line x1="481.85" y1="238.90" x2="484.25" y2="238.90" stroke="#2020b0" stroke-width="0.7" opacity="0.75"/>
<line x1="481.85" y1="241.12" x2="484.25" y2="241.12" stroke="#2020b0" stroke-width="0.7" opacity="0.75"/>
<path d="M443.60,212.76 L456.75,227.22 L469.90,237.23 L483.05,240.01" stroke="#2020b0" stroke-width="1.1" fill="none" stroke-linejoin="round"/>
<circle cx="443.60" cy="212.76" r="1.3" fill="#2020b0"/>
<circle cx="456.75" cy="227.22" r="1.3" fill="#2020b0"/>
<circle cx="469.90" cy="237.23" r="1.3" fill="#2020b0"/>
<circle cx="483.05" cy="240.01" r="1.3" fill="#2020b0"/>
<line x1="443.60" y1="197.75" x2="443.60" y2="208.87" stroke="#58a0ea" stroke-width="0.8" opacity="0.75"/>
<line x1="442.40" y1="197.75" x2="444.80" y2="197.75" stroke="#58a0ea" stroke-width="0.7" opacity="0.75"/>
<line x1="442.40" y1="208.87" x2="444.80" y2="208.87" stroke="#58a0ea" stroke-width="0.7" opacity="0.75"/>
<line x1="456.75" y1="213.88" x2="456.75" y2="222.77" stroke="#58a0ea" stroke-width="0.8" opacity="0.75"/>
<line x1="455.55" y1="213.88" x2="457.95" y2="213.88" stroke="#58a0ea" stroke-width="0.7" opacity="0.75"/>
<line x1="455.55" y1="222.77" x2="457.95" y2="222.77" stroke="#58a0ea" stroke-width="0.7" opacity="0.75"/>
<line x1="469.90" y1="228.33" x2="469.90" y2="232.78" stroke="#58a0ea" stroke-width="0.8" opacity="0.75"/>
<line x1="468.70" y1="228.33" x2="471.10" y2="228.33" stroke="#58a0ea" stroke-width="0.7" opacity="0.75"/>
<line x1="468.70" y1="232.78" x2="471.10" y2="232.78" stroke="#58a0ea" stroke-width="0.7" opacity="0.75"/>
<line x1="483.05" y1="235.00" x2="483.05" y2="238.34" stroke="#58a0ea" stroke-width="0.8" opacity="0.75"/>
<line x1="481.85" y1="235.00" x2="484.25" y2="235.00" stroke="#58a0ea" stroke-width="0.7" opacity="0.75"/>
<line x1="481.85" y1="238.34" x2="484.25" y2="238.34" stroke="#58a0ea" stroke-width="0.7" opacity="0.75"/>
<path d="M443.60,203.31 L456.75,218.32 L469.90,230.56 L483.05,236.67" stroke="#58a0ea" stroke-width="1.1" fill="none" stroke-linejoin="round"/>
<circle cx="443.60" cy="203.31" r="1.3" fill="#58a0ea"/>
<circle cx="456.75" cy="218.32" r="1.3" fill="#58a0ea"/>
<circle cx="469.90" cy="230.56" r="1.3" fill="#58a0ea"/>
<circle cx="483.05" cy="236.67" r="1.3" fill="#58a0ea"/>
<line x1="443.60" y1="194.42" x2="443.60" y2="207.76" stroke="#5ae4f4" stroke-width="0.8" opacity="0.75"/>
<line x1="442.40" y1="194.42" x2="444.80" y2="194.42" stroke="#5ae4f4" stroke-width="0.7" opacity="0.75"/>
<line x1="442.40" y1="207.76" x2="444.80" y2="207.76" stroke="#5ae4f4" stroke-width="0.7" opacity="0.75"/>
<line x1="456.75" y1="211.65" x2="456.75" y2="220.55" stroke="#5ae4f4" stroke-width="0.8" opacity="0.75"/>
<line x1="455.55" y1="211.65" x2="457.95" y2="211.65" stroke="#5ae4f4" stroke-width="0.7" opacity="0.75"/>
<line x1="455.55" y1="220.55" x2="457.95" y2="220.55" stroke="#5ae4f4" stroke-width="0.7" opacity="0.75"/>
<line x1="469.90" y1="226.66" x2="469.90" y2="231.11" stroke="#5ae4f4" stroke-width="0.8" opacity="0.75"/>
<line x1="468.70" y1="226.66" x2="471.10" y2="226.66" stroke="#5ae4f4" stroke-width="0.7" opacity="0.75"/>
<line x1="468.70" y1="231.11" x2="471.10" y2="231.11" stroke="#5ae4f4" stroke-width="0.7" opacity="0.75"/>
<line x1="483.05" y1="233.34" x2="483.05" y2="237.78" stroke="#5ae4f4" stroke-width="0.8" opacity="0.75"/>
<line x1="481.85" y1="233.34" x2="484.25" y2="233.34" stroke="#5ae4f4" stroke-width="0.7" opacity="0.75"/>
<line x1="481.85" y1="237.78" x2="484.25" y2="237.78" stroke="#5ae4f4" stroke-width="0.7" opacity="0.75"/>
<path d="M443.60,201.09 L456.75,216.10 L469.90,228.89 L483.05,235.56" stroke="#5ae4f4" stroke-width="1.1" fill="none" stroke-linejoin="round"/>
<circle cx="443.60" cy="201.09" r="1.3" fill="#5ae4f4"/>
<circle cx="456.75" cy="216.10" r="1.3" fill="#5ae4f4"/>
<circle cx="469.90" cy="228.89" r="1.3" fill="#5ae4f4"/>
<circle cx="483.05" cy="235.56" r="1.3" fill="#5ae4f4"/>
<text x="9.50" y="209.70" font-size="11.5" font-weight="bold" text-anchor="middle" fill="#000" stroke="#000" stroke-width="0.45" textLength="46.30" lengthAdjust="spacingAndGlyphs" transform="rotate(-90 9.50 209.70)">Lysis(%)</text>
<text x="5.00" y="286.90" font-size="13" font-weight="bold" text-anchor="start" fill="#000" stroke="#000" stroke-width="0.45">C</text>
<text x="67.00" y="293.20" font-size="9.0" font-weight="bold" text-anchor="middle" fill="#000" stroke="#000" stroke-width="0.45" textLength="21.50" lengthAdjust="spacingAndGlyphs">U251</text>
<line x1="36.70" y1="298.80" x2="36.70" y2="364.40" stroke="#000" stroke-width="1.2"/>
<line x1="36.10" y1="363.80" x2="96.90" y2="363.80" stroke="#000" stroke-width="1.2"/>
<line x1="34.10" y1="363.80" x2="36.70" y2="363.80" stroke="#000" stroke-width="1.1"/>
<text x="32.40" y="368.50" font-size="8.8" font-weight="normal" text-anchor="end" fill="#000" stroke="#000" stroke-width="0.55" textLength="4.30" lengthAdjust="spacingAndGlyphs">0</text>
<line x1="34.10" y1="347.82" x2="36.70" y2="347.82" stroke="#000" stroke-width="1.1"/>
<text x="32.40" y="352.53" font-size="8.8" font-weight="normal" text-anchor="end" fill="#000" stroke="#000" stroke-width="0.55" textLength="8.60" lengthAdjust="spacingAndGlyphs">25</text>
<line x1="34.10" y1="331.85" x2="36.70" y2="331.85" stroke="#000" stroke-width="1.1"/>
<text x="32.40" y="336.55" font-size="8.8" font-weight="normal" text-anchor="end" fill="#000" stroke="#000" stroke-width="0.55" textLength="8.60" lengthAdjust="spacingAndGlyphs">50</text>
<line x1="34.10" y1="315.88" x2="36.70" y2="315.88" stroke="#000" stroke-width="1.1"/>
<text x="32.40" y="319.48" font-size="8.8" font-weight="normal" text-anchor="end" fill="#000" stroke="#000" stroke-width="0.55" textLength="8.60" lengthAdjust="spacingAndGlyphs">75</text>
<line x1="34.10" y1="299.90" x2="36.70" y2="299.90" stroke="#000" stroke-width="1.1"/>
<text x="32.40" y="303.50" font-size="8.8" font-weight="normal" text-anchor="end" fill="#000" stroke="#000" stroke-width="0.55" textLength="12.90" lengthAdjust="spacingAndGlyphs">100</text>
<line x1="39.90" y1="345.65" x2="39.90" y2="352.04" stroke="#000000" stroke-width="0.7" opacity="0.6"/>
<line x1="38.90" y1="345.65" x2="40.90" y2="345.65" stroke="#000000" stroke-width="0.6" opacity="0.6"/>
<rect x="38.20" y="352.04" width="3.40" height="11.76" fill="#000000"/>
<line x1="44.50" y1="339.84" x2="44.50" y2="346.23" stroke="#62eef4" stroke-width="0.7" opacity="0.6"/>
<line x1="43.50" y1="339.84" x2="45.50" y2="339.84" stroke="#62eef4" stroke-width="0.6" opacity="0.6"/>
<rect x="42.80" y="346.23" width="3.40" height="17.57" fill="#62eef4"/>
<line x1="49.10" y1="346.93" x2="49.10" y2="352.04" stroke="#f06818" stroke-width="0.7" opacity="0.6"/>
<line x1="48.10" y1="346.93" x2="50.10" y2="346.93" stroke="#f06818" stroke-width="0.6" opacity="0.6"/>
<rect x="47.40" y="352.04" width="3.40" height="11.76" fill="#f06818"/>
<line x1="53.70" y1="345.65" x2="53.70" y2="348.85" stroke="#0010d0" stroke-width="0.7" opacity="0.6"/>
<line x1="52.70" y1="345.65" x2="54.70" y2="345.65" stroke="#0010d0" stroke-width="0.6" opacity="0.6"/>
<rect x="52.00" y="348.85" width="3.40" height="14.95" fill="#0010d0"/>
<line x1="58.30" y1="345.91" x2="58.30" y2="352.30" stroke="#1aa83a" stroke-width="0.7" opacity="0.6"/>
<line x1="57.30" y1="345.91" x2="59.30" y2="345.91" stroke="#1aa83a" stroke-width="0.6" opacity="0.6"/>
<rect x="56.60" y="352.30" width="3.40" height="11.50" fill="#1aa83a"/>
<line x1="62.90" y1="335.81" x2="62.90" y2="339.01" stroke="#5ea8f0" stroke-width="0.7" opacity="0.6"/>
<line x1="61.90" y1="335.81" x2="63.90" y2="335.81" stroke="#5ea8f0" stroke-width="0.6" opacity="0.6"/>
<rect x="61.20" y="339.01" width="3.40" height="24.79" fill="#5ea8f0"/>
<line x1="70.50" y1="350.38" x2="70.50" y2="352.30" stroke="#000000" stroke-width="0.7" opacity="0.6"/>
<line x1="69.50" y1="350.38" x2="71.50" y2="350.38" stroke="#000000" stroke-width="0.6" opacity="0.6"/>
<rect x="68.80" y="352.30" width="3.40" height="11.50" fill="#000000"/>
<line x1="75.10" y1="339.26" x2="75.10" y2="345.65" stroke="#62eef4" stroke-width="0.7" opacity="0.6"/>
<line x1="74.10" y1="339.26" x2="76.10" y2="339.26" stroke="#62eef4" stroke-width="0.6" opacity="0.6"/>
<rect x="73.40" y="345.65" width="3.40" height="18.15" fill="#62eef4"/>
<line x1="79.70" y1="351.02" x2="79.70" y2="354.22" stroke="#f06818" stroke-width="0.7" opacity="0.6"/>
<line x1="78.70" y1="351.02" x2="80.70" y2="351.02" stroke="#f06818" stroke-width="0.6" opacity="0.6"/>
<rect x="78.00" y="354.22" width="3.40" height="9.58" fill="#f06818"/>
<line x1="84.30" y1="352.30" x2="84.30" y2="352.94" stroke="#0010d0" stroke-width="0.7" opacity="0.6"/>
<line x1="83.30" y1="352.30" x2="85.30" y2="352.30" stroke="#0010d0" stroke-width="0.6" opacity="0.6"/>
<rect x="82.60" y="352.94" width="3.40" height="10.86" fill="#0010d0"/>
<line x1="88.90" y1="350.38" x2="88.90" y2="352.30" stroke="#1aa83a" stroke-width="0.7" opacity="0.6"/>
<line x1="87.90" y1="350.38" x2="89.90" y2="350.38" stroke="#1aa83a" stroke-width="0.6" opacity="0.6"/>
<rect x="87.20" y="352.30" width="3.40" height="11.50" fill="#1aa83a"/>
<line x1="93.50" y1="334.15" x2="93.50" y2="339.26" stroke="#5ea8f0" stroke-width="0.7" opacity="0.6"/>
<line x1="92.50" y1="334.15" x2="94.50" y2="334.15" stroke="#5ea8f0" stroke-width="0.6" opacity="0.6"/>
<rect x="91.80" y="339.26" width="3.40" height="24.54" fill="#5ea8f0"/>
<line x1="50.50" y1="363.80" x2="50.50" y2="366.30" stroke="#000" stroke-width="1.0"/>
<line x1="81.70" y1="363.80" x2="81.70" y2="366.30" stroke="#000" stroke-width="1.0"/>
<text x="46.10" y="376.30" font-size="8.6" font-weight="normal" text-anchor="middle" fill="#000" stroke="#000" stroke-width="0.5" textLength="17.50" lengthAdjust="spacingAndGlyphs">Control</text>
<text x="81.20" y="376.30" font-size="8.6" font-weight="normal" text-anchor="middle" fill="#000" stroke="#000" stroke-width="0.5" textLength="36.40" lengthAdjust="spacingAndGlyphs">Trastuzumab</text>
<text x="76.00" y="390.60" font-size="8.6" font-weight="normal" text-anchor="middle" fill="#000" stroke="#000" stroke-width="0.5" textLength="23.50" lengthAdjust="spacingAndGlyphs">E:T 1:3</text>
<text x="158.00" y="293.20" font-size="9.0" font-weight="bold" text-anchor="middle" fill="#000" stroke="#000" stroke-width="0.45" textLength="31.70" lengthAdjust="spacingAndGlyphs">SKOV3</text>
<line x1="119.20" y1="298.80" x2="119.20" y2="364.70" stroke="#000" stroke-width="1.2"/>
<line x1="118.60" y1="364.10" x2="179.00" y2="364.10" stroke="#000" stroke-width="1.2"/>
<line x1="114.60" y1="364.10" x2="119.20" y2="364.10" stroke="#000" stroke-width="1.1"/>
<text x="114.30" y="368.80" font-size="8.8" font-weight="normal" text-anchor="end" fill="#000" stroke="#000" stroke-width="0.55" textLength="4.20" lengthAdjust="spacingAndGlyphs">0</text>
<line x1="114.60" y1="348.15" x2="119.20" y2="348.15" stroke="#000" stroke-width="1.1"/>
<text x="114.30" y="352.85" font-size="8.8" font-weight="normal" text-anchor="end" fill="#000" stroke="#000" stroke-width="0.55" textLength="8.40" lengthAdjust="spacingAndGlyphs">25</text>
<line x1="114.60" y1="332.20" x2="119.20" y2="332.20" stroke="#000" stroke-width="1.1"/>
<text x="114.30" y="336.90" font-size="8.8" font-weight="normal" text-anchor="end" fill="#000" stroke="#000" stroke-width="0.55" textLength="8.40" lengthAdjust="spacingAndGlyphs">50</text>
<line x1="114.60" y1="316.25" x2="119.20" y2="316.25" stroke="#000" stroke-width="1.1"/>
<text x="114.30" y="319.85" font-size="8.8" font-weight="normal" text-anchor="end" fill="#000" stroke="#000" stroke-width="0.55" textLength="8.40" lengthAdjust="spacingAndGlyphs">75</text>
<line x1="114.60" y1="300.30" x2="119.20" y2="300.30" stroke="#000" stroke-width="1.1"/>
<text x="114.30" y="303.90" font-size="8.8" font-weight="normal" text-anchor="end" fill="#000" stroke="#000" stroke-width="0.55" textLength="12.60" lengthAdjust="spacingAndGlyphs">100</text>
<line x1="123.30" y1="356.25" x2="123.30" y2="360.08" stroke="#000000" stroke-width="0.7" opacity="0.6"/>
<line x1="122.30" y1="356.25" x2="124.30" y2="356.25" stroke="#000000" stroke-width="0.6" opacity="0.6"/>
<rect x="121.60" y="360.08" width="3.40" height="4.02" fill="#000000"/>
<line x1="127.85" y1="338.58" x2="127.85" y2="344.96" stroke="#62eef4" stroke-width="0.7" opacity="0.6"/>
<line x1="126.85" y1="338.58" x2="128.85" y2="338.58" stroke="#62eef4" stroke-width="0.6" opacity="0.6"/>
<rect x="126.15" y="344.96" width="3.40" height="19.14" fill="#62eef4"/>
<line x1="132.40" y1="355.81" x2="132.40" y2="360.27" stroke="#f06818" stroke-width="0.7" opacity="0.6"/>
<line x1="131.40" y1="355.81" x2="133.40" y2="355.81" stroke="#f06818" stroke-width="0.6" opacity="0.6"/>
<rect x="130.70" y="360.27" width="3.40" height="3.83" fill="#f06818"/>
<line x1="136.95" y1="347.70" x2="136.95" y2="355.36" stroke="#0010d0" stroke-width="0.7" opacity="0.6"/>
<line x1="135.95" y1="347.70" x2="137.95" y2="347.70" stroke="#0010d0" stroke-width="0.6" opacity="0.6"/>
<rect x="135.25" y="355.36" width="3.40" height="8.74" fill="#0010d0"/>
<line x1="141.50" y1="355.61" x2="141.50" y2="358.80" stroke="#1aa83a" stroke-width="0.7" opacity="0.6"/>
<line x1="140.50" y1="355.61" x2="142.50" y2="355.61" stroke="#1aa83a" stroke-width="0.6" opacity="0.6"/>
<rect x="139.80" y="358.80" width="3.40" height="5.30" fill="#1aa83a"/>
<line x1="146.05" y1="337.50" x2="146.05" y2="345.79" stroke="#5ea8f0" stroke-width="0.7" opacity="0.6"/>
<line x1="145.05" y1="337.50" x2="147.05" y2="337.50" stroke="#5ea8f0" stroke-width="0.6" opacity="0.6"/>
<rect x="144.35" y="345.79" width="3.40" height="18.31" fill="#5ea8f0"/>
<line x1="153.00" y1="324.10" x2="153.00" y2="332.39" stroke="#000000" stroke-width="0.7" opacity="0.6"/>
<line x1="152.00" y1="324.10" x2="154.00" y2="324.10" stroke="#000000" stroke-width="0.6" opacity="0.6"/>
<rect x="151.30" y="332.39" width="3.40" height="31.71" fill="#000000"/>
<line x1="157.55" y1="307.45" x2="157.55" y2="311.91" stroke="#62eef4" stroke-width="0.7" opacity="0.6"/>
<line x1="156.55" y1="307.45" x2="158.55" y2="307.45" stroke="#62eef4" stroke-width="0.6" opacity="0.6"/>
<rect x="155.85" y="311.91" width="3.40" height="52.19" fill="#62eef4"/>
<line x1="162.10" y1="316.89" x2="162.10" y2="323.27" stroke="#f06818" stroke-width="0.7" opacity="0.6"/>
<line x1="161.10" y1="316.89" x2="163.10" y2="316.89" stroke="#f06818" stroke-width="0.6" opacity="0.6"/>
<rect x="160.40" y="323.27" width="3.40" height="40.83" fill="#f06818"/>
<line x1="166.65" y1="312.23" x2="166.65" y2="317.97" stroke="#0010d0" stroke-width="0.7" opacity="0.6"/>
<line x1="165.65" y1="312.23" x2="167.65" y2="312.23" stroke="#0010d0" stroke-width="0.6" opacity="0.6"/>
<rect x="164.95" y="317.97" width="3.40" height="46.13" fill="#0010d0"/>
<line x1="171.20" y1="312.74" x2="171.20" y2="314.66" stroke="#1aa83a" stroke-width="0.7" opacity="0.6"/>
<line x1="170.20" y1="312.74" x2="172.20" y2="312.74" stroke="#1aa83a" stroke-width="0.6" opacity="0.6"/>
<rect x="169.50" y="314.66" width="3.40" height="49.44" fill="#1aa83a"/>
<line x1="175.75" y1="309.61" x2="175.75" y2="313.44" stroke="#5ea8f0" stroke-width="0.7" opacity="0.6"/>
<line x1="174.75" y1="309.61" x2="176.75" y2="309.61" stroke="#5ea8f0" stroke-width="0.6" opacity="0.6"/>
<rect x="174.05" y="313.44" width="3.40" height="50.66" fill="#5ea8f0"/>
<line x1="134.60" y1="364.10" x2="134.60" y2="366.60" stroke="#000" stroke-width="1.0"/>
<line x1="164.30" y1="364.10" x2="164.30" y2="366.60" stroke="#000" stroke-width="1.0"/>
<text x="132.00" y="376.30" font-size="8.6" font-weight="normal" text-anchor="middle" fill="#000" stroke="#000" stroke-width="0.5" textLength="19.00" lengthAdjust="spacingAndGlyphs">Control</text>
<text x="164.00" y="376.30" font-size="8.6" font-weight="normal" text-anchor="middle" fill="#000" stroke="#000" stroke-width="0.5" textLength="35.00" lengthAdjust="spacingAndGlyphs">Trastuzumab</text>
<text x="148.50" y="390.60" font-size="8.6" font-weight="normal" text-anchor="middle" fill="#000" stroke="#000" stroke-width="0.5" textLength="23.50" lengthAdjust="spacingAndGlyphs">E:T 3:1</text>
<text x="14.00" y="326.60" font-size="11.5" font-weight="bold" text-anchor="middle" fill="#000" stroke="#000" stroke-width="0.45" textLength="45.50" lengthAdjust="spacingAndGlyphs" transform="rotate(-90 14.00 326.60)">Lysis(%)</text>
<text x="191.60" y="286.80" font-size="12.5" font-weight="bold" text-anchor="start" fill="#000" stroke="#000" stroke-width="0.45">D</text>
<line x1="225.80" y1="298.10" x2="225.80" y2="364.00" stroke="#000" stroke-width="1.2"/>
<line x1="225.20" y1="363.40" x2="282.30" y2="363.40" stroke="#000" stroke-width="1.2"/>
<line x1="223.30" y1="363.40" x2="225.80" y2="363.40" stroke="#000" stroke-width="1.1"/>
<text x="221.80" y="366.40" font-size="8.8" font-weight="bold" text-anchor="end" fill="#000" stroke="#000" stroke-width="0.45" textLength="4.30" lengthAdjust="spacingAndGlyphs">0</text>
<line x1="223.30" y1="347.27" x2="225.80" y2="347.27" stroke="#000" stroke-width="1.1"/>
<text x="221.80" y="350.27" font-size="8.8" font-weight="bold" text-anchor="end" fill="#000" stroke="#000" stroke-width="0.45" textLength="19.50" lengthAdjust="spacingAndGlyphs">1,000</text>
<line x1="223.30" y1="331.15" x2="225.80" y2="331.15" stroke="#000" stroke-width="1.1"/>
<text x="221.80" y="334.15" font-size="8.8" font-weight="bold" text-anchor="end" fill="#000" stroke="#000" stroke-width="0.45" textLength="19.50" lengthAdjust="spacingAndGlyphs">2,000</text>
<line x1="223.30" y1="315.02" x2="225.80" y2="315.02" stroke="#000" stroke-width="1.1"/>
<text x="221.80" y="318.02" font-size="8.8" font-weight="bold" text-anchor="end" fill="#000" stroke="#000" stroke-width="0.45" textLength="19.50" lengthAdjust="spacingAndGlyphs">3,000</text>
<line x1="223.30" y1="298.90" x2="225.80" y2="298.90" stroke="#000" stroke-width="1.1"/>
<text x="221.80" y="301.90" font-size="8.8" font-weight="bold" text-anchor="end" fill="#000" stroke="#000" stroke-width="0.45" textLength="19.50" lengthAdjust="spacingAndGlyphs">4,000</text>
<line x1="239.20" y1="363.40" x2="239.20" y2="366.00" stroke="#000" stroke-width="1.0"/>
<line x1="267.70" y1="363.40" x2="267.70" y2="366.00" stroke="#000" stroke-width="1.0"/>
<text x="239.60" y="376.30" font-size="8.0" font-weight="bold" text-anchor="middle" fill="#000" stroke="#000" stroke-width="0.45" textLength="25.80" lengthAdjust="spacingAndGlyphs">NK-K562</text>
<text x="268.30" y="376.30" font-size="8.0" font-weight="bold" text-anchor="middle" fill="#000" stroke="#000" stroke-width="0.45" textLength="8.60" lengthAdjust="spacingAndGlyphs">NK</text>
<text x="194.00" y="326.30" font-size="7.6" font-weight="bold" text-anchor="middle" fill="#000" stroke="#000" stroke-width="0.45" textLength="28.90" lengthAdjust="spacingAndGlyphs" transform="rotate(-90 194.00 326.30)">pg/mL</text>
<circle cx="230.60" cy="352.92" r="1.15" fill="#000000"/>
<circle cx="230.60" cy="360.98" r="1.15" fill="#000000"/>
<circle cx="230.60" cy="361.79" r="1.15" fill="#000000"/>
<circle cx="234.70" cy="333.57" r="1.15" fill="#50e8f0"/>
<circle cx="234.70" cy="343.24" r="1.15" fill="#50e8f0"/>
<circle cx="234.70" cy="350.50" r="1.15" fill="#50e8f0"/>
<line x1="232.50" y1="343.24" x2="236.90" y2="343.24" stroke="#50e8f0" stroke-width="0.9"/>
<circle cx="238.60" cy="331.15" r="1.15" fill="#f06818"/>
<circle cx="238.60" cy="360.17" r="1.15" fill="#f06818"/>
<circle cx="243.00" cy="312.61" r="1.15" fill="#0000c0"/>
<circle cx="243.00" cy="350.50" r="1.15" fill="#0000c0"/>
<circle cx="243.00" cy="357.76" r="1.15" fill="#0000c0"/>
<circle cx="247.30" cy="354.53" r="1.15" fill="#1aa83a"/>
<circle cx="247.30" cy="360.98" r="1.15" fill="#1aa83a"/>
<circle cx="251.50" cy="331.15" r="1.15" fill="#5ea8f0"/>
<circle cx="251.50" cy="346.47" r="1.15" fill="#5ea8f0"/>
<circle cx="251.50" cy="351.31" r="1.15" fill="#5ea8f0"/>
<line x1="249.30" y1="346.47" x2="253.70" y2="346.47" stroke="#5ea8f0" stroke-width="0.9"/>
<circle cx="259.20" cy="362.43" r="1.15" fill="#000000"/>
<circle cx="263.00" cy="362.75" r="1.15" fill="#50e8f0"/>
<circle cx="267.40" cy="362.43" r="1.15" fill="#f06818"/>
<circle cx="271.50" cy="362.75" r="1.15" fill="#0000c0"/>
<circle cx="275.50" cy="362.11" r="1.15" fill="#1aa83a"/>
<circle cx="279.60" cy="361.46" r="1.15" fill="#5ea8f0"/>
<line x1="313.20" y1="298.10" x2="313.20" y2="364.00" stroke="#000" stroke-width="1.2"/>
<line x1="312.60" y1="363.40" x2="370.00" y2="363.40" stroke="#000" stroke-width="1.2"/>
<line x1="310.70" y1="363.40" x2="313.20" y2="363.40" stroke="#000" stroke-width="1.1"/>
<text x="311.20" y="366.40" font-size="8.8" font-weight="bold" text-anchor="end" fill="#000" stroke="#000" stroke-width="0.45" textLength="4.30" lengthAdjust="spacingAndGlyphs">0</text>
<line x1="310.70" y1="341.90" x2="313.20" y2="341.90" stroke="#000" stroke-width="1.1"/>
<text x="311.20" y="344.90" font-size="8.8" font-weight="bold" text-anchor="end" fill="#000" stroke="#000" stroke-width="0.45" textLength="12.90" lengthAdjust="spacingAndGlyphs">500</text>
<line x1="310.70" y1="320.40" x2="313.20" y2="320.40" stroke="#000" stroke-width="1.1"/>
<text x="311.20" y="323.40" font-size="8.8" font-weight="bold" text-anchor="end" fill="#000" stroke="#000" stroke-width="0.45" textLength="19.50" lengthAdjust="spacingAndGlyphs">1,000</text>
<line x1="310.70" y1="298.90" x2="313.20" y2="298.90" stroke="#000" stroke-width="1.1"/>
<text x="311.20" y="301.90" font-size="8.8" font-weight="bold" text-anchor="end" fill="#000" stroke="#000" stroke-width="0.45" textLength="19.50" lengthAdjust="spacingAndGlyphs">1,500</text>
<line x1="327.00" y1="363.40" x2="327.00" y2="366.00" stroke="#000" stroke-width="1.0"/>
<line x1="355.50" y1="363.40" x2="355.50" y2="366.00" stroke="#000" stroke-width="1.0"/>
<text x="327.40" y="376.30" font-size="8.0" font-weight="bold" text-anchor="middle" fill="#000" stroke="#000" stroke-width="0.45" textLength="25.80" lengthAdjust="spacingAndGlyphs">NK-K562</text>
<text x="356.10" y="376.30" font-size="8.0" font-weight="bold" text-anchor="middle" fill="#000" stroke="#000" stroke-width="0.45" textLength="8.60" lengthAdjust="spacingAndGlyphs">NK</text>
<text x="287.10" y="327.00" font-size="7.6" font-weight="bold" text-anchor="middle" fill="#000" stroke="#000" stroke-width="0.45" textLength="27.80" lengthAdjust="spacingAndGlyphs" transform="rotate(-90 287.10 327.00)">pg/mL</text>
<circle cx="316.80" cy="360.39" r="1.15" fill="#000000"/>
<circle cx="321.20" cy="331.15" r="1.15" fill="#50e8f0"/>
<circle cx="321.20" cy="335.45" r="1.15" fill="#50e8f0"/>
<circle cx="321.20" cy="339.75" r="1.15" fill="#50e8f0"/>
<line x1="319.00" y1="335.45" x2="323.40" y2="335.45" stroke="#50e8f0" stroke-width="0.9"/>
<circle cx="325.80" cy="353.94" r="1.15" fill="#f06818"/>
<circle cx="325.80" cy="359.96" r="1.15" fill="#f06818"/>
<circle cx="330.20" cy="344.05" r="1.15" fill="#0000c0"/>
<circle cx="330.20" cy="348.35" r="1.15" fill="#0000c0"/>
<circle cx="330.20" cy="354.80" r="1.15" fill="#0000c0"/>
<circle cx="334.40" cy="358.24" r="1.15" fill="#1aa83a"/>
<circle cx="334.40" cy="360.82" r="1.15" fill="#1aa83a"/>
<circle cx="338.80" cy="323.84" r="1.15" fill="#5ea8f0"/>
<circle cx="338.80" cy="341.90" r="1.15" fill="#5ea8f0"/>
<circle cx="338.80" cy="346.20" r="1.15" fill="#5ea8f0"/>
<line x1="336.60" y1="341.90" x2="341.00" y2="341.90" stroke="#5ea8f0" stroke-width="0.9"/>
<circle cx="346.00" cy="361.68" r="1.15" fill="#000000"/>
<circle cx="350.30" cy="362.11" r="1.15" fill="#50e8f0"/>
<circle cx="354.60" cy="362.54" r="1.15" fill="#f06818"/>
<circle cx="358.90" cy="362.97" r="1.15" fill="#0000c0"/>
<circle cx="363.20" cy="362.11" r="1.15" fill="#1aa83a"/>
<circle cx="367.50" cy="361.68" r="1.15" fill="#5ea8f0"/>
<line x1="400.20" y1="298.10" x2="400.20" y2="364.00" stroke="#000" stroke-width="1.2"/>
<line x1="399.60" y1="363.40" x2="455.60" y2="363.40" stroke="#000" stroke-width="1.2"/>
<line x1="397.70" y1="363.40" x2="400.20" y2="363.40" stroke="#000" stroke-width="1.1"/>
<text x="397.10" y="366.40" font-size="8.8" font-weight="bold" text-anchor="end" fill="#000" stroke="#000" stroke-width="0.45" textLength="4.30" lengthAdjust="spacingAndGlyphs">0</text>
<line x1="397.70" y1="347.27" x2="400.20" y2="347.27" stroke="#000" stroke-width="1.1"/>
<text x="397.10" y="350.27" font-size="8.8" font-weight="bold" text-anchor="end" fill="#000" stroke="#000" stroke-width="0.45" textLength="12.90" lengthAdjust="spacingAndGlyphs">100</text>
<line x1="397.70" y1="331.15" x2="400.20" y2="331.15" stroke="#000" stroke-width="1.1"/>
<text x="397.10" y="334.15" font-size="8.8" font-weight="bold" text-anchor="end" fill="#000" stroke="#000" stroke-width="0.45" textLength="12.90" lengthAdjust="spacingAndGlyphs">200</text>
<line x1="397.70" y1="315.02" x2="400.20" y2="315.02" stroke="#000" stroke-width="1.1"/>
<text x="397.10" y="318.02" font-size="8.8" font-weight="bold" text-anchor="end" fill="#000" stroke="#000" stroke-width="0.45" textLength="12.90" lengthAdjust="spacingAndGlyphs">300</text>
<line x1="397.70" y1="298.90" x2="400.20" y2="298.90" stroke="#000" stroke-width="1.1"/>
<text x="397.10" y="301.90" font-size="8.8" font-weight="bold" text-anchor="end" fill="#000" stroke="#000" stroke-width="0.45" textLength="12.90" lengthAdjust="spacingAndGlyphs">400</text>
<line x1="414.00" y1="363.40" x2="414.00" y2="366.00" stroke="#000" stroke-width="1.0"/>
<line x1="442.50" y1="363.40" x2="442.50" y2="366.00" stroke="#000" stroke-width="1.0"/>
<text x="414.40" y="376.30" font-size="8.0" font-weight="bold" text-anchor="middle" fill="#000" stroke="#000" stroke-width="0.45" textLength="25.80" lengthAdjust="spacingAndGlyphs">NK-K562</text>
<text x="443.10" y="376.30" font-size="8.0" font-weight="bold" text-anchor="middle" fill="#000" stroke="#000" stroke-width="0.45" textLength="8.60" lengthAdjust="spacingAndGlyphs">NK</text>
<text x="378.20" y="325.80" font-size="7.6" font-weight="bold" text-anchor="middle" fill="#000" stroke="#000" stroke-width="0.45" textLength="27.80" lengthAdjust="spacingAndGlyphs" transform="rotate(-90 378.20 325.80)">pg/mL</text>
<circle cx="403.20" cy="354.21" r="1.15" fill="#000000"/>
<circle cx="403.20" cy="358.24" r="1.15" fill="#000000"/>
<circle cx="407.20" cy="313.41" r="1.15" fill="#50e8f0"/>
<circle cx="407.20" cy="324.70" r="1.15" fill="#50e8f0"/>
<circle cx="407.20" cy="331.79" r="1.15" fill="#50e8f0"/>
<line x1="405.00" y1="324.70" x2="409.40" y2="324.70" stroke="#50e8f0" stroke-width="0.9"/>
<circle cx="411.40" cy="348.56" r="1.15" fill="#f06818"/>
<circle cx="411.40" cy="356.14" r="1.15" fill="#f06818"/>
<circle cx="415.70" cy="340.50" r="1.15" fill="#0000c0"/>
<circle cx="415.70" cy="353.72" r="1.15" fill="#0000c0"/>
<circle cx="415.70" cy="356.14" r="1.15" fill="#0000c0"/>
<circle cx="420.00" cy="356.14" r="1.15" fill="#1aa83a"/>
<circle cx="420.00" cy="358.24" r="1.15" fill="#1aa83a"/>
<circle cx="424.40" cy="320.67" r="1.15" fill="#5ea8f0"/>
<circle cx="424.40" cy="346.47" r="1.15" fill="#5ea8f0"/>
<circle cx="431.70" cy="358.56" r="1.15" fill="#000000"/>
<circle cx="435.80" cy="345.66" r="1.15" fill="#50e8f0"/>
<circle cx="435.80" cy="354.05" r="1.15" fill="#50e8f0"/>
<circle cx="439.80" cy="358.88" r="1.15" fill="#f06818"/>
<circle cx="444.10" cy="353.72" r="1.15" fill="#0000c0"/>
<circle cx="444.10" cy="360.17" r="1.15" fill="#0000c0"/>
<circle cx="448.40" cy="352.11" r="1.15" fill="#1aa83a"/>
<circle cx="448.40" cy="357.76" r="1.15" fill="#1aa83a"/>
<circle cx="452.70" cy="352.44" r="1.15" fill="#5ea8f0"/>
<circle cx="452.70" cy="354.37" r="1.15" fill="#5ea8f0"/>
<text x="248.20" y="292.60" font-size="8.8" font-weight="bold" text-anchor="start" fill="#000" stroke="#000" stroke-width="0.45" textLength="14.80" lengthAdjust="spacingAndGlyphs">IFN</text>
<text x="263.60" y="293.20" font-size="7.4" font-weight="normal" text-anchor="start" fill="#000" stroke="#000" stroke-width="0.05">γ</text>
<text x="331.20" y="292.10" font-size="8.6" font-weight="bold" text-anchor="start" fill="#000" stroke="#000" stroke-width="0.45" textLength="36.90" lengthAdjust="spacingAndGlyphs">GM-CSF</text>
<text x="421.80" y="292.60" font-size="8.6" font-weight="bold" text-anchor="start" fill="#000" stroke="#000" stroke-width="0.45" textLength="16.60" lengthAdjust="spacingAndGlyphs">TNF</text>
<text x="438.60" y="292.90" font-size="9.0" font-weight="normal" text-anchor="start" fill="#000" stroke="#000" stroke-width="0.15" textLength="6.40" lengthAdjust="spacingAndGlyphs">α</text>
<path d="M322.0,320.9 L322.0,317.3 L327.2,317.3 L327.2,342.6" stroke="#222" stroke-width="0.9" fill="none"/>
<text x="324.50" y="317.60" font-size="11" font-weight="bold" text-anchor="middle" fill="#000" stroke="#000" stroke-width="0.3">*</text>
<path d="M406.6,309.5 L406.6,305.7 L412.2,305.7 L412.2,332.0" stroke="#222" stroke-width="0.9" fill="none"/>
<text x="409.60" y="306.40" font-size="11" font-weight="bold" text-anchor="middle" fill="#000" stroke="#000" stroke-width="0.3">*</text>
<circle cx="461.80" cy="304.70" r="1.5" fill="#000000"/>
<text x="465.90" y="308.00" font-size="9.2" font-weight="normal" text-anchor="start" fill="#000" stroke="#000" stroke-width="0.15" textLength="22.70" lengthAdjust="spacingAndGlyphs">K-WT</text>
<circle cx="461.80" cy="314.85" r="1.5" fill="#50e8f0"/>
<text x="465.90" y="318.15" font-size="9.2" font-weight="normal" text-anchor="start" fill="#000" stroke="#000" stroke-width="0.15" textLength="25.20" lengthAdjust="spacingAndGlyphs">K-IL15</text>
<circle cx="461.80" cy="325.00" r="1.5" fill="#f06818"/>
<text x="465.90" y="328.30" font-size="9.2" font-weight="normal" text-anchor="start" fill="#000" stroke="#000" stroke-width="0.15" textLength="24.60" lengthAdjust="spacingAndGlyphs">K-IL21</text>
<circle cx="461.80" cy="335.15" r="1.5" fill="#0000c0"/>
<text x="465.90" y="338.45" font-size="9.2" font-weight="normal" text-anchor="start" fill="#000" stroke="#000" stroke-width="0.15" textLength="44.00" lengthAdjust="spacingAndGlyphs">K-IL15-IL21</text>
<circle cx="461.80" cy="345.30" r="1.5" fill="#1aa83a"/>
<text x="465.90" y="348.60" font-size="9.2" font-weight="normal" text-anchor="start" fill="#000" stroke="#000" stroke-width="0.15" textLength="52.70" lengthAdjust="spacingAndGlyphs">K-IL15-K-IL21</text>
<circle cx="461.80" cy="355.45" r="1.5" fill="#5ea8f0"/>
<text x="465.90" y="358.75" font-size="9.2" font-weight="normal" text-anchor="start" fill="#000" stroke="#000" stroke-width="0.15" textLength="53.40" lengthAdjust="spacingAndGlyphs">K-IL21-K-IL15</text>
<text x="112.60" y="418.20" font-size="13" font-weight="bold" text-anchor="start" fill="#000" stroke="#000" stroke-width="0.45">E</text>
<text x="191.30" y="415.40" font-size="10" font-weight="bold" text-anchor="start" fill="#000" stroke="#000" stroke-width="0.45" textLength="126.70" lengthAdjust="spacingAndGlyphs">TLR 7/8 Agonist (R848)</text>
<rect x="164.20" y="426.00" width="5.40" height="5.30" fill="#8cc45a"/>
<text x="172.60" y="431.60" font-size="8.6" font-weight="bold" text-anchor="start" fill="#000" stroke="#000" stroke-width="0.45" textLength="36.40" lengthAdjust="spacingAndGlyphs">Effector</text>
<rect x="214.20" y="426.00" width="5.40" height="5.30" fill="#1ea8e0"/>
<text x="221.40" y="431.60" font-size="8.6" font-weight="bold" text-anchor="start" fill="#000" stroke="#000" stroke-width="0.45" textLength="52.40" lengthAdjust="spacingAndGlyphs">Stimulatory</text>
<rect x="277.50" y="426.00" width="5.40" height="5.30" fill="#b47ce8"/>
<text x="284.70" y="431.60" font-size="8.6" font-weight="bold" text-anchor="start" fill="#000" stroke="#000" stroke-width="0.45" textLength="76.90" lengthAdjust="spacingAndGlyphs">Chemoattractive</text>
<text x="165.80" y="446.00" font-size="8.2" font-weight="normal" text-anchor="start" fill="#000" stroke="#000" stroke-width="0.15" textLength="47.10" lengthAdjust="spacingAndGlyphs">Granzyme B</text>
<text x="231.80" y="446.00" font-size="8.2" font-weight="normal" text-anchor="start" fill="#000" stroke="#000" stroke-width="0.15" textLength="16.70" lengthAdjust="spacingAndGlyphs">IL12</text>
<text x="285.80" y="446.00" font-size="8.2" font-weight="normal" text-anchor="start" fill="#000" stroke="#000" stroke-width="0.15" textLength="35.20" lengthAdjust="spacingAndGlyphs">RANTES</text>
<line x1="146.50" y1="457.10" x2="146.50" y2="547.80" stroke="#000" stroke-width="1.3"/>
<line x1="145.90" y1="547.20" x2="375.20" y2="547.20" stroke="#000" stroke-width="1.3"/>
<line x1="143.50" y1="547.20" x2="146.50" y2="547.20" stroke="#000" stroke-width="1.2"/>
<text x="140.50" y="550.40" font-size="9.8" font-weight="bold" text-anchor="end" fill="#000" stroke="#000" stroke-width="0.25" textLength="5.90" lengthAdjust="spacingAndGlyphs">0</text>
<line x1="143.50" y1="529.34" x2="146.50" y2="529.34" stroke="#000" stroke-width="1.2"/>
<text x="140.50" y="532.54" font-size="9.8" font-weight="bold" text-anchor="end" fill="#000" stroke="#000" stroke-width="0.25" textLength="5.90" lengthAdjust="spacingAndGlyphs">8</text>
<line x1="143.50" y1="511.48" x2="146.50" y2="511.48" stroke="#000" stroke-width="1.2"/>
<text x="140.50" y="514.68" font-size="9.8" font-weight="bold" text-anchor="end" fill="#000" stroke="#000" stroke-width="0.25" textLength="11.80" lengthAdjust="spacingAndGlyphs">16</text>
<line x1="143.50" y1="493.62" x2="146.50" y2="493.62" stroke="#000" stroke-width="1.2"/>
<text x="140.50" y="496.82" font-size="9.8" font-weight="bold" text-anchor="end" fill="#000" stroke="#000" stroke-width="0.25" textLength="11.80" lengthAdjust="spacingAndGlyphs">24</text>
<line x1="143.50" y1="475.76" x2="146.50" y2="475.76" stroke="#000" stroke-width="1.2"/>
<text x="140.50" y="478.96" font-size="9.8" font-weight="bold" text-anchor="end" fill="#000" stroke="#000" stroke-width="0.25" textLength="11.80" lengthAdjust="spacingAndGlyphs">32</text>
<line x1="143.50" y1="457.90" x2="146.50" y2="457.90" stroke="#000" stroke-width="1.2"/>
<text x="140.50" y="461.10" font-size="9.8" font-weight="bold" text-anchor="end" fill="#000" stroke="#000" stroke-width="0.25" textLength="11.80" lengthAdjust="spacingAndGlyphs">40</text>
<text x="120.90" y="498.20" font-size="10.2" font-weight="bold" text-anchor="middle" fill="#000" stroke="#000" stroke-width="0.45" textLength="16.30" lengthAdjust="spacingAndGlyphs" transform="rotate(-90 120.90 498.20)">PSI</text>
<rect x="154.30" y="544.52" width="22.20" height="1.79" fill="#c39be8"/>
<rect x="154.30" y="546.31" width="22.20" height="0.89" fill="#a9c98a"/>
<rect x="191.90" y="465.49" width="22.20" height="29.02" fill="#c39be8"/>
<rect x="191.90" y="494.51" width="22.20" height="52.69" fill="#a9c98a"/>
<rect x="229.50" y="489.60" width="22.20" height="19.65" fill="#c39be8"/>
<rect x="229.50" y="509.25" width="22.20" height="1.79" fill="#72cfe8"/>
<rect x="229.50" y="511.03" width="22.20" height="36.17" fill="#a9c98a"/>
<rect x="267.15" y="530.23" width="22.20" height="1.34" fill="#c39be8"/>
<rect x="267.15" y="531.57" width="22.20" height="6.03" fill="#72cfe8"/>
<rect x="267.15" y="537.60" width="22.20" height="9.60" fill="#a9c98a"/>
<rect x="304.65" y="494.51" width="22.20" height="17.64" fill="#c39be8"/>
<rect x="304.65" y="512.15" width="22.20" height="6.03" fill="#72cfe8"/>
<rect x="304.65" y="518.18" width="22.20" height="29.02" fill="#a9c98a"/>
<rect x="342.35" y="483.57" width="22.20" height="22.32" fill="#c39be8"/>
<rect x="342.35" y="505.90" width="22.20" height="41.30" fill="#a9c98a"/>
<text x="165.40" y="560.40" font-size="9.6" font-weight="bold" text-anchor="middle" fill="#000" stroke="#000" stroke-width="0.45">K-WT</text>
<text x="201.30" y="560.40" font-size="9.6" font-weight="bold" text-anchor="middle" fill="#000" stroke="#000" stroke-width="0.45">K-IL15</text>
<text x="240.00" y="560.40" font-size="9.6" font-weight="bold" text-anchor="middle" fill="#000" stroke="#000" stroke-width="0.45">K-IL21</text>
<text x="278.00" y="560.40" font-size="9.6" font-weight="bold" text-anchor="middle" fill="#000" stroke="#000" stroke-width="0.45">K-IL15</text>
<text x="278.00" y="572.40" font-size="9.6" font-weight="bold" text-anchor="middle" fill="#000" stroke="#000" stroke-width="0.45">-IL21</text>
<text x="317.50" y="560.40" font-size="9.6" font-weight="bold" text-anchor="middle" fill="#000" stroke="#000" stroke-width="0.45">K-IL15-</text>
<text x="317.50" y="572.40" font-size="9.6" font-weight="bold" text-anchor="middle" fill="#000" stroke="#000" stroke-width="0.45">K-IL21</text>
<text x="356.30" y="560.40" font-size="9.6" font-weight="bold" text-anchor="middle" fill="#000" stroke="#000" stroke-width="0.45">K-IL21-</text>
<text x="356.30" y="572.40" font-size="9.6" font-weight="bold" text-anchor="middle" fill="#000" stroke="#000" stroke-width="0.45">K-IL15</text>
</svg>
</body></html>
